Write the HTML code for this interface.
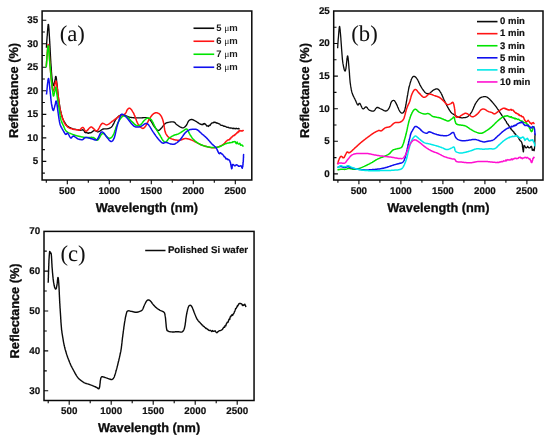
<!DOCTYPE html>
<html lang="en">
<head>
<meta charset="utf-8">
<title>Reflectance spectra</title>
<style>
html,body{margin:0;padding:0;background:#fff;}
body{width:550px;height:440px;overflow:hidden;}
svg{display:block;filter:blur(0.35px);}
text{text-rendering:geometricPrecision;}
.tk{font-family:"Liberation Sans", Arial, Helvetica, sans-serif;font-weight:bold;font-size:9.8px;fill:#111;stroke:#111;stroke-width:0.2px;}
.tt{font-family:"Liberation Sans", Arial, Helvetica, sans-serif;font-weight:bold;font-size:12.75px;fill:#0c0c0c;stroke:#0c0c0c;stroke-width:0.3px;}
.lt{font-family:"Liberation Serif", "Times New Roman", serif;font-size:22.7px;fill:#111;}
.lg{font-family:"Liberation Sans", Arial, Helvetica, sans-serif;font-weight:bold;font-size:9.5px;fill:#1c1c1c;}
.lb{font-family:"Liberation Sans", Arial, Helvetica, sans-serif;font-weight:bold;font-size:9.5px;fill:#111;stroke:#111;stroke-width:0.2px;}
.mu{font-family:"Liberation Serif", "Times New Roman", serif;font-weight:normal;font-size:9.5px;}
</style>
</head>
<body>
<svg width="550" height="440" viewBox="0 0 550 440">
<defs>
<clipPath id="ca"><rect x="42.1" y="11.0" width="209.70" height="169.00"/></clipPath>
<clipPath id="cb"><rect x="333.7" y="11.0" width="209.30" height="169.05"/></clipPath>
<clipPath id="cc"><rect x="44.0" y="231.4" width="210.05" height="169.10"/></clipPath>
</defs>
<rect x="0" y="0" width="550" height="440" fill="#ffffff"/>
<rect x="42.1" y="11.0" width="209.70" height="169.00" fill="none" stroke="#080808" stroke-width="1.5"/>
<path d="M67.30,180.0v4.2M109.30,180.0v4.2M151.30,180.0v4.2M193.30,180.0v4.2M235.30,180.0v4.2M46.30,180.0v2.8M88.30,180.0v2.8M130.30,180.0v2.8M172.30,180.0v2.8M214.30,180.0v2.8M42.1,161.40h4.2M42.1,137.87h4.2M42.1,114.33h4.2M42.1,90.80h4.2M42.1,67.26h4.2M42.1,43.73h4.2M42.1,20.19h4.2M42.1,173.17h2.8M42.1,149.63h2.8M42.1,126.10h2.8M42.1,102.56h2.8M42.1,79.03h2.8M42.1,55.49h2.8M42.1,31.96h2.8" stroke="#080808" stroke-width="1.1" fill="none"/>
<text x="67.30" y="193.80" text-anchor="middle" class="tk">500</text>
<text x="109.30" y="193.80" text-anchor="middle" class="tk">1000</text>
<text x="151.30" y="193.80" text-anchor="middle" class="tk">1500</text>
<text x="193.30" y="193.80" text-anchor="middle" class="tk">2000</text>
<text x="235.30" y="193.80" text-anchor="middle" class="tk">2500</text>
<text x="38.20" y="164.30" text-anchor="end" class="tk">5</text>
<text x="38.20" y="140.77" text-anchor="end" class="tk">10</text>
<text x="38.20" y="117.23" text-anchor="end" class="tk">15</text>
<text x="38.20" y="93.70" text-anchor="end" class="tk">20</text>
<text x="38.20" y="70.16" text-anchor="end" class="tk">25</text>
<text x="38.20" y="46.63" text-anchor="end" class="tk">30</text>
<text x="38.20" y="23.09" text-anchor="end" class="tk">35</text>
<text x="146.95" y="211.90" text-anchor="middle" class="tt">Wavelength (nm)</text>
<text transform="translate(17.60,90.50) rotate(-90)" text-anchor="middle" class="tt">Reflectance (%)</text>
<text x="59.70" y="40.60" class="lt">(a)</text>
<g clip-path="url(#ca)">
<path d="M46.4,47.7L46.4,47.4L46.4,47.0L46.5,46.5L46.5,46.0L46.5,45.5L46.6,44.9L46.6,44.2L46.7,43.6L46.7,42.9L46.7,42.2L46.8,41.5L46.8,40.8L46.9,40.1L46.9,39.4L47.0,38.7L47.0,38.0L47.1,37.3L47.1,36.6L47.2,36.0L47.3,35.3L47.3,34.6L47.4,33.9L47.4,33.1L47.5,32.2L47.5,31.4L47.6,30.5L47.7,29.7L47.7,28.8L47.8,28.0L47.9,27.3L47.9,26.6L48.0,26.0L48.1,25.4L48.1,25.0L48.2,24.6L48.3,24.4L48.3,24.3L48.4,24.3L48.4,24.4L48.5,24.6L48.5,24.8L48.6,25.1L48.6,25.5L48.7,25.9L48.7,26.4L48.8,26.9L48.8,27.5L48.9,28.1L48.9,28.7L49.0,29.4L49.0,30.0L49.0,30.8L49.1,31.5L49.1,32.3L49.2,33.0L49.2,33.8L49.3,34.6L49.3,35.4L49.4,36.2L49.4,37.0L49.5,37.7L49.5,38.5L49.6,39.3L49.6,40.0L49.6,40.5L49.7,41.1L49.7,41.6L49.7,42.2L49.8,42.8L49.8,43.3L49.8,43.9L49.9,44.5L49.9,45.2L49.9,45.8L50.0,46.4L50.0,47.0L50.0,47.6L50.1,48.3L50.1,48.9L50.1,49.6L50.2,50.2L50.2,50.9L50.2,51.5L50.3,52.2L50.3,52.8L50.3,53.4L50.4,54.1L50.4,54.7L50.4,55.4L50.5,56.0L50.5,56.6L50.5,57.3L50.6,57.9L50.6,58.5L50.6,59.1L50.7,59.7L50.7,60.3L50.7,60.9L50.8,61.4L50.8,62.0L50.8,62.7L50.9,63.3L50.9,64.0L51.0,64.7L51.0,65.4L51.1,66.1L51.1,66.7L51.2,67.4L51.2,68.1L51.3,68.8L51.3,69.4L51.4,70.1L51.4,70.7L51.4,71.4L51.5,72.0L51.5,72.7L51.6,73.3L51.6,73.9L51.7,74.5L51.7,75.1L51.8,75.6L51.8,76.2L51.9,76.7L51.9,77.3L52.0,77.8L52.0,78.3L52.1,78.7L52.1,79.2L52.2,79.6L52.2,80.0L52.3,80.6L52.3,81.2L52.5,82.3L52.6,83.1L52.8,83.9L52.9,84.4L53.1,84.9L53.2,85.2L53.4,85.4L53.5,85.5L53.7,85.4L53.9,84.9L54.1,84.3L54.3,83.5L54.4,82.6L54.6,81.7L54.8,81.0L55.0,80.2L55.1,79.3L55.3,78.4L55.4,77.5L55.6,76.8L55.7,76.4L55.9,76.4L56.0,76.6L56.1,76.9L56.2,77.4L56.3,77.9L56.4,78.6L56.5,79.3L56.5,80.0L56.6,80.8L56.7,81.6L56.8,82.5L56.9,83.2L57.0,84.0L57.1,84.6L57.1,85.1L57.2,85.8L57.3,86.4L57.3,87.0L57.4,87.6L57.4,88.3L57.5,89.0L57.6,89.6L57.6,90.3L57.7,90.9L57.7,91.6L57.8,92.2L57.9,92.8L57.9,93.4L58.0,94.0L58.1,94.7L58.2,95.4L58.2,96.0L58.3,96.6L58.4,97.2L58.5,97.8L58.5,98.5L58.6,99.1L58.7,99.7L58.8,100.3L58.9,100.9L59.0,101.6L59.1,102.3L59.2,102.9L59.3,103.5L59.4,104.1L59.5,104.7L59.6,105.4L59.7,106.0L59.8,106.7L59.9,107.3L60.0,108.0L60.1,108.6L60.2,109.3L60.4,109.9L60.5,110.5L60.6,111.1L60.8,111.7L60.9,112.3L61.1,112.9L61.2,113.6L61.4,114.2L61.6,114.9L61.8,115.5L61.9,116.1L62.1,116.7L62.3,117.3L62.5,117.9L62.7,118.4L62.9,119.0L63.2,119.5L63.4,119.9L63.6,120.5L63.9,121.1L64.2,121.8L64.5,122.1L64.8,122.7L65.2,123.2L65.5,124.0L65.9,124.4L66.2,124.5L66.6,125.5L66.9,125.9L67.3,126.1L67.8,126.5L68.4,126.7L68.9,127.0L69.5,127.6L70.1,127.6L70.6,128.0L71.2,128.2L71.8,128.3L72.5,128.8L73.2,129.0L73.9,129.3L74.6,129.2L75.2,129.4L75.8,129.4L76.4,129.6L77.2,129.6L77.9,129.6L78.5,130.1L79.1,130.2L79.8,130.2L80.4,130.3L81.0,130.1L81.6,130.1L82.3,130.0L82.9,129.7L83.5,130.2L83.8,130.3L84.1,131.1L84.5,131.5L84.9,132.4L85.5,132.7L86.0,132.4L86.6,132.6L87.2,133.1L87.9,132.9L88.6,133.3L89.3,132.9L89.9,132.6L90.5,132.9L91.1,132.7L91.7,132.1L92.3,131.8L92.8,131.4L93.3,131.0L93.9,130.7L94.4,130.5L95.0,130.6L95.6,130.8L96.2,131.2L96.8,131.5L97.5,131.8L98.2,131.8L98.7,131.7L99.2,131.4L99.8,131.1L100.4,130.7L101.0,130.3L101.6,129.9L102.1,129.5L102.7,129.2L103.3,129.0L103.9,128.8L104.6,128.8L105.3,128.8L105.9,128.8L106.6,128.8L107.2,128.8L107.8,128.7L108.4,128.6L109.0,128.4L109.6,128.2L110.1,127.9L110.6,127.6L111.2,127.2L111.7,126.7L112.2,126.1L112.5,125.7L112.8,125.2L113.1,124.7L113.4,124.2L113.7,123.6L114.0,123.0L114.2,122.4L114.5,121.7L114.8,121.2L115.1,120.6L115.4,120.0L115.7,119.5L116.0,119.1L116.5,118.5L117.0,117.9L117.4,117.4L117.9,116.9L118.4,116.5L118.8,116.1L119.3,115.8L119.8,115.5L120.4,115.2L121.0,114.9L121.5,114.8L122.1,114.7L122.8,114.7L123.6,114.8L124.1,114.9L124.6,115.1L125.1,115.3L125.7,115.6L126.3,115.8L126.9,116.1L127.5,116.4L128.2,116.7L128.8,116.9L129.5,117.1L130.2,117.3L130.8,117.4L131.4,117.5L132.0,117.6L132.6,117.6L133.3,117.7L133.9,117.7L134.6,117.8L135.3,117.8L135.9,117.8L136.6,117.8L137.2,117.9L137.9,117.9L138.5,117.9L139.1,117.9L139.8,117.9L140.5,117.9L141.2,117.8L141.9,117.8L142.6,117.7L143.2,117.7L143.9,117.6L144.5,117.6L145.1,117.6L145.7,117.6L146.2,117.6L146.7,117.7L147.4,117.9L148.1,118.2L148.6,118.5L149.1,118.9L149.5,119.4L150.0,119.9L150.5,120.5L150.8,120.9L151.1,121.4L151.5,121.9L151.8,122.4L152.1,123.0L152.5,123.6L152.8,124.2L153.1,124.8L153.4,125.3L153.8,125.9L154.1,126.4L154.4,126.8L154.9,127.4L155.4,128.0L155.9,128.6L156.3,129.1L156.8,129.6L157.3,130.0L157.8,130.3L158.2,130.4L158.8,130.4L159.3,130.2L159.8,129.8L160.3,129.2L160.8,128.7L161.4,128.1L161.8,127.7L162.2,127.2L162.6,126.7L163.0,126.1L163.4,125.5L163.9,125.0L164.3,124.4L164.7,124.0L165.2,123.6L165.8,123.2L166.4,122.9L167.0,122.7L167.7,122.5L168.3,122.3L169.0,122.2L169.6,122.1L170.3,122.0L170.9,121.9L171.6,121.9L172.3,121.9L173.0,121.9L173.6,122.0L174.1,122.1L174.7,122.4L175.1,122.8L175.5,123.4L175.9,123.9L176.6,124.5L177.0,124.8L177.5,125.1L178.0,125.5L178.6,125.9L179.1,126.3L179.7,126.6L180.3,127.0L180.9,127.3L181.4,127.5L181.9,127.7L182.4,127.8L183.1,127.8L183.7,127.6L184.2,127.3L184.8,126.9L185.3,126.5L185.7,126.0L186.2,125.5L186.6,125.0L186.9,124.4L187.2,123.8L187.5,123.1L187.8,122.4L188.1,121.8L188.5,121.2L188.8,120.8L189.4,120.3L190.0,119.9L190.6,119.6L191.3,119.5L192.0,119.5L192.5,119.6L193.0,119.8L193.6,120.0L194.1,120.3L194.7,120.7L195.3,121.0L195.9,121.3L196.5,121.6L197.0,122.0L197.6,122.3L198.2,122.9L198.8,123.2L199.4,123.6L199.9,123.9L200.5,124.3L201.0,124.2L201.5,124.6L202.3,124.3L202.9,124.7L203.5,123.6L204.1,124.0L204.7,123.4L205.2,124.1L205.7,124.4L206.2,125.1L206.7,126.0L207.3,125.8L207.9,125.9L208.3,126.5L208.8,125.9L209.3,125.2L209.8,125.5L210.4,124.9L210.9,123.8L211.4,123.6L211.9,123.0L212.4,122.9L213.1,122.8L213.6,122.3L214.2,122.6L214.8,122.1L215.5,122.3L216.2,123.0L216.7,122.8L217.2,123.0L217.8,123.4L218.4,123.5L219.0,123.8L219.6,123.8L220.2,124.7L220.8,125.2L221.3,125.4L221.9,125.4L222.5,125.4L223.0,125.7L223.6,126.2L224.1,126.4L224.7,126.1L225.2,126.4L225.8,126.7L226.4,127.0L227.0,127.4L227.6,127.4L228.2,127.1L228.9,127.9L229.5,127.8L230.2,128.0L230.9,127.9L231.5,128.1L232.2,128.2L232.8,128.6L233.4,128.2L234.1,128.6L234.9,128.4L235.6,128.8L236.3,128.3L236.9,128.6L237.5,128.6L238.1,128.9L238.5,128.4L239.4,128.9L239.7,128.9" stroke="#0a0a0a" stroke-width="1.35" fill="none" stroke-linejoin="round" stroke-linecap="butt"/>
<path d="M46.3,66.0L46.3,65.7L46.4,65.3L46.4,64.8L46.4,64.3L46.5,63.7L46.5,63.1L46.6,62.5L46.6,61.8L46.7,61.0L46.7,60.3L46.8,59.5L46.8,58.7L46.9,57.9L46.9,57.1L47.0,56.2L47.1,55.4L47.1,54.6L47.2,53.7L47.2,52.9L47.3,52.1L47.4,51.3L47.4,50.6L47.5,49.8L47.6,49.1L47.6,48.4L47.7,47.8L47.7,47.2L47.8,46.6L47.9,46.2L47.9,45.7L48.0,45.3L48.0,45.0L48.1,44.8L48.1,44.6L48.2,44.5L48.3,44.5L48.3,44.5L48.4,44.7L48.4,44.9L48.5,45.2L48.5,45.5L48.6,46.0L48.7,46.4L48.7,47.0L48.8,47.6L48.8,48.2L48.9,48.8L48.9,49.5L49.0,50.3L49.0,51.0L49.1,51.8L49.1,52.6L49.2,53.4L49.3,54.3L49.3,55.1L49.4,55.9L49.4,56.7L49.5,57.6L49.5,58.4L49.6,59.1L49.6,59.9L49.7,60.6L49.7,61.3L49.8,62.0L49.9,62.6L49.9,63.2L50.0,63.8L50.0,64.4L50.1,65.0L50.1,65.6L50.2,66.3L50.2,66.9L50.3,67.6L50.3,68.2L50.4,68.9L50.4,69.6L50.5,70.2L50.5,70.9L50.6,71.5L50.6,72.2L50.7,72.9L50.7,73.5L50.8,74.2L50.8,74.8L50.9,75.4L50.9,76.1L51.0,76.7L51.0,77.3L51.1,77.9L51.1,78.4L51.2,79.0L51.2,79.5L51.3,80.1L51.3,80.6L51.4,81.1L51.4,81.5L51.5,82.0L51.6,83.0L51.7,83.9L51.8,84.8L52.0,85.7L52.1,86.5L52.2,87.3L52.3,88.0L52.4,88.7L52.5,89.3L52.6,89.8L52.8,90.3L52.9,90.6L53.0,90.8L53.2,91.0L53.3,91.0L53.4,90.9L53.6,90.6L53.7,90.1L53.9,89.6L54.0,88.9L54.2,88.2L54.4,87.3L54.5,86.5L54.7,85.6L54.9,84.8L55.0,84.0L55.2,83.2L55.4,82.5L55.5,81.9L55.6,81.4L55.8,81.1L55.9,80.9L56.1,80.9L56.2,81.1L56.3,81.4L56.4,82.0L56.5,82.6L56.6,83.3L56.7,84.1L56.8,84.9L56.9,85.8L57.0,86.6L57.1,87.3L57.2,88.0L57.3,88.6L57.4,89.2L57.5,89.8L57.5,90.5L57.6,91.1L57.7,91.7L57.8,92.4L57.8,93.0L57.9,93.6L58.0,94.3L58.1,94.9L58.1,95.4L58.2,96.0L58.3,96.7L58.4,97.4L58.5,98.0L58.6,98.6L58.7,99.2L58.7,99.8L58.8,100.4L58.9,101.0L59.0,101.7L59.1,102.3L59.2,102.9L59.2,103.4L59.3,103.9L59.3,104.4L59.3,104.9L59.4,105.5L59.5,106.0L59.5,106.7L59.7,107.3L59.8,108.1L60.0,108.9L60.1,109.4L60.2,109.9L60.4,110.4L60.5,110.9L60.7,111.5L60.8,112.1L61.0,112.8L61.2,113.4L61.3,114.0L61.5,114.7L61.7,115.3L61.9,116.0L62.1,116.6L62.3,117.3L62.5,117.9L62.7,118.6L62.9,119.1L63.1,119.6L63.3,120.1L63.4,120.6L63.6,121.2L63.8,121.5L64.2,122.4L64.5,123.0L64.9,123.7L65.3,124.3L65.6,125.0L66.0,125.3L66.4,125.3L66.8,125.8L67.2,126.1L67.6,126.9L68.1,127.3L68.6,127.6L69.2,127.9L69.7,128.1L70.3,128.5L70.9,128.6L71.5,128.5L72.1,129.0L72.7,129.0L73.3,129.3L73.9,129.4L74.6,129.4L75.3,129.5L76.0,129.7L76.7,129.7L77.3,129.7L78.0,130.2L78.6,130.1L79.1,130.2L79.8,129.8L80.4,129.3L80.9,128.9L81.4,128.0L81.9,127.9L82.4,127.5L82.9,127.4L83.3,127.6L83.7,128.1L84.1,128.7L84.4,129.4L84.8,130.1L85.2,130.7L85.6,131.1L86.1,131.2L86.5,131.1L86.9,130.8L87.3,130.4L87.8,129.9L88.3,129.4L88.7,128.8L89.2,128.3L89.7,127.8L90.2,127.4L90.7,127.1L91.2,127.0L91.7,127.1L92.2,127.4L92.7,127.8L93.3,128.3L93.8,128.8L94.3,129.4L94.8,129.9L95.4,130.3L95.9,130.7L96.4,130.8L96.9,130.8L97.3,130.6L97.7,130.3L98.0,129.8L98.4,129.3L98.8,128.7L99.1,128.0L99.5,127.3L99.8,126.6L100.2,125.9L100.6,125.3L100.9,124.7L101.3,124.2L101.6,123.8L102.0,123.5L102.6,123.3L103.2,123.4L103.9,123.6L104.5,124.0L105.1,124.4L105.7,124.7L106.4,124.9L107.1,124.8L107.6,124.6L108.1,124.4L108.6,124.1L109.1,123.8L109.7,123.4L110.2,123.0L110.8,122.5L111.3,122.1L111.9,121.6L112.4,121.2L113.0,120.8L113.5,120.4L114.0,120.0L114.6,119.6L115.1,119.2L115.7,118.8L116.2,118.4L116.7,118.0L117.3,117.6L117.8,117.2L118.3,116.8L118.8,116.5L119.3,116.2L119.8,115.9L120.4,115.6L121.1,115.4L121.7,115.2L122.3,115.0L122.9,114.9L123.4,114.7L124.0,114.5L124.4,114.3L124.9,114.0L125.3,113.5L125.7,113.0L126.1,112.4L126.4,111.7L126.6,111.1L126.9,110.4L127.2,109.9L127.5,109.5L128.1,108.8L128.8,108.3L129.4,108.1L130.2,108.4L130.5,108.6L130.8,109.0L131.2,109.4L131.5,109.8L131.9,110.3L132.2,110.9L132.6,111.5L132.9,112.1L133.3,112.7L133.7,113.4L134.0,114.1L134.2,114.6L134.4,115.1L134.7,115.6L134.9,116.2L135.1,116.8L135.3,117.4L135.5,118.0L135.7,118.6L136.0,119.2L136.2,119.8L136.4,120.4L136.6,121.0L136.9,121.6L137.1,122.2L137.3,122.7L137.6,123.2L137.8,123.6L138.2,124.3L138.7,125.0L139.1,125.6L139.6,126.2L140.1,126.7L140.6,127.1L141.0,127.5L141.5,127.9L141.9,128.1L142.3,128.3L142.9,128.4L143.4,128.3L143.9,128.0L144.4,127.5L144.9,126.9L145.5,126.2L145.8,125.8L146.1,125.4L146.3,124.9L146.6,124.3L146.9,123.8L147.2,123.2L147.5,122.6L147.8,122.0L148.1,121.4L148.4,120.8L148.7,120.2L149.0,119.7L149.3,119.2L149.7,118.6L150.1,118.0L150.4,117.4L150.8,116.8L151.2,116.3L151.6,115.8L152.0,115.3L152.3,114.8L152.7,114.4L153.1,114.1L153.7,113.6L154.4,113.2L155.0,113.0L155.6,112.8L156.3,112.7L156.9,112.8L157.5,112.9L158.0,113.2L158.6,113.4L159.2,113.8L159.7,114.3L160.2,114.8L160.7,115.4L161.0,115.8L161.3,116.3L161.5,116.7L161.8,117.3L162.0,117.8L162.2,118.4L162.5,119.0L162.7,119.6L162.9,120.3L163.1,121.0L163.3,121.7L163.4,122.2L163.5,122.8L163.7,123.3L163.8,123.9L163.9,124.6L164.0,125.2L164.1,125.9L164.2,126.5L164.3,127.2L164.4,127.9L164.5,128.5L164.6,129.2L164.7,129.8L164.8,130.4L164.9,130.9L165.1,131.4L165.2,131.9L165.5,132.6L165.7,133.3L166.0,133.9L166.3,134.4L166.6,134.9L166.9,135.4L167.3,135.8L167.6,136.2L168.0,136.6L168.4,137.0L168.9,137.4L169.4,137.8L169.9,138.1L170.5,138.4L171.0,138.7L171.6,138.9L172.2,139.1L172.9,139.3L173.5,139.5L174.1,139.7L174.7,139.8L175.3,139.9L176.0,140.0L176.6,140.1L177.3,140.2L178.0,140.2L178.6,140.2L179.2,140.2L179.8,140.2L180.4,140.1L181.0,140.0L181.6,139.7L182.2,139.5L182.8,139.3L183.3,139.0L183.9,138.8L184.4,138.7L185.0,138.6L185.6,138.6L186.3,138.6L186.9,138.7L187.6,138.8L188.2,139.0L188.8,139.1L189.5,139.3L190.1,139.5L190.7,139.7L191.2,139.9L191.8,140.1L192.3,140.4L192.9,140.6L193.4,140.9L194.0,141.2L194.6,141.5L195.2,141.8L195.7,142.1L196.3,142.3L196.8,142.6L197.4,143.0L198.0,143.3L198.6,143.6L199.2,143.9L199.7,144.2L200.3,144.5L200.9,144.8L201.5,145.0L202.1,145.2L202.7,145.4L203.3,145.6L203.9,145.8L204.5,146.0L205.1,146.2L205.7,146.3L206.2,146.5L206.8,146.6L207.4,146.8L207.9,146.9L208.6,147.1L209.3,147.2L209.9,147.4L210.5,147.5L211.1,147.6L211.8,147.7L212.4,147.8L213.0,147.8L213.6,147.8L214.3,147.7L214.9,147.7L215.5,147.6L216.2,147.4L216.8,147.3L217.5,147.1L218.1,146.9L218.7,146.7L219.3,146.5L219.8,146.2L220.4,146.0L221.0,145.7L221.6,145.4L222.2,145.1L222.7,144.7L223.2,144.4L223.7,144.0L224.2,143.6L224.6,143.1L225.0,142.6L225.5,142.2L225.9,141.6L226.3,141.1L226.6,140.9L227.0,140.6L227.7,140.0L228.3,140.0L228.9,139.7L229.5,139.7L229.9,138.8L230.3,138.4L230.7,138.6L231.1,137.5L231.6,136.9L232.1,137.0L232.6,136.5L233.1,135.6L233.6,135.7L234.2,135.5L234.8,134.6L235.3,134.8L235.9,133.8L236.4,133.6L236.9,132.8L237.4,132.3L237.9,132.6L238.4,131.4L238.9,131.6L239.3,130.6L239.7,130.5L240.4,130.8L241.0,131.1L241.5,130.8L242.2,131.1L243.0,130.7L243.5,129.8" stroke="#ff1414" stroke-width="1.5" fill="none" stroke-linejoin="round" stroke-linecap="butt"/>
<path d="M46.2,67.3L46.2,67.0L46.3,66.6L46.3,66.1L46.3,65.6L46.4,65.0L46.4,64.4L46.5,63.8L46.5,63.1L46.6,62.3L46.6,61.6L46.7,60.8L46.8,60.0L46.8,59.2L46.9,58.4L46.9,57.6L47.0,56.7L47.1,55.9L47.1,55.1L47.2,54.2L47.3,53.4L47.3,52.6L47.4,51.9L47.5,51.1L47.5,50.4L47.6,49.7L47.7,49.1L47.7,48.5L47.8,48.0L47.9,47.5L47.9,47.0L48.0,46.6L48.0,46.3L48.1,46.1L48.1,45.9L48.2,45.8L48.3,45.8L48.3,45.8L48.4,46.0L48.4,46.2L48.5,46.5L48.6,46.9L48.6,47.4L48.7,47.9L48.7,48.5L48.8,49.1L48.9,49.8L48.9,50.5L49.0,51.2L49.0,52.0L49.1,52.8L49.1,53.6L49.2,54.4L49.2,55.3L49.3,56.1L49.4,57.0L49.4,57.8L49.5,58.6L49.5,59.4L49.6,60.2L49.6,61.0L49.7,61.7L49.7,62.4L49.8,63.0L49.9,63.6L49.9,64.2L50.0,64.9L50.0,65.5L50.1,66.1L50.2,66.8L50.2,67.4L50.3,68.1L50.3,68.7L50.4,69.4L50.5,70.0L50.5,70.7L50.6,71.3L50.6,72.0L50.7,72.6L50.7,73.2L50.8,73.8L50.9,74.5L50.9,75.1L51.0,75.7L51.0,76.2L51.1,76.8L51.1,77.4L51.2,77.9L51.2,78.5L51.3,79.0L51.4,79.5L51.4,80.0L51.5,80.8L51.6,81.6L51.6,82.4L51.7,83.1L51.8,83.8L51.9,84.4L51.9,85.1L52.0,85.7L52.1,86.3L52.1,86.9L52.2,87.4L52.2,87.9L52.3,88.5L52.4,89.0L52.4,89.5L52.5,90.0L52.6,90.8L52.7,91.6L52.8,92.4L52.9,93.2L53.0,93.9L53.1,94.6L53.2,95.1L53.3,95.6L53.4,95.9L53.5,96.0L53.6,95.9L53.8,95.5L54.0,94.9L54.1,94.1L54.3,93.3L54.5,92.4L54.6,91.6L54.8,91.0L55.0,90.2L55.2,89.2L55.4,88.4L55.5,87.6L55.7,87.2L55.9,87.3L56.0,87.5L56.1,87.9L56.2,88.4L56.3,89.0L56.4,89.7L56.5,90.5L56.5,91.3L56.6,92.1L56.7,92.9L56.8,93.6L56.9,94.3L57.0,95.0L57.1,95.7L57.2,96.3L57.3,97.0L57.4,97.6L57.5,98.3L57.5,98.9L57.6,99.5L57.7,100.1L57.8,100.8L57.9,101.4L58.0,102.0L58.1,102.6L58.2,103.2L58.3,103.7L58.4,104.2L58.5,104.8L58.5,105.3L58.6,105.9L58.7,106.5L58.9,107.1L59.0,107.8L59.1,108.6L59.2,109.1L59.3,109.6L59.3,110.2L59.4,110.8L59.5,111.4L59.6,112.1L59.7,112.7L59.8,113.4L59.9,114.1L60.0,114.7L60.1,115.4L60.2,116.0L60.3,116.7L60.4,117.3L60.5,117.9L60.7,118.5L60.8,119.0L60.9,119.5L61.1,120.3L61.3,121.0L61.6,121.6L61.8,122.2L62.1,122.8L62.3,123.4L62.6,123.9L62.8,124.4L63.1,125.0L63.3,125.5L63.6,126.0L63.9,126.6L64.1,127.3L64.4,127.9L64.6,128.5L64.9,129.1L65.2,129.7L65.5,130.2L65.9,130.7L66.4,131.2L66.8,131.6L67.3,131.9L67.9,132.3L68.4,132.6L69.0,132.9L69.6,133.1L70.3,133.4L70.9,133.7L71.5,133.9L72.1,134.2L72.7,134.4L73.3,134.6L73.9,134.8L74.4,135.0L75.0,135.2L75.6,135.4L76.2,135.6L76.8,135.7L77.4,135.9L77.9,136.0L78.5,136.2L79.1,136.3L79.7,136.5L80.4,136.6L81.0,136.7L81.6,136.9L82.2,137.0L82.9,137.1L83.5,137.3L84.1,137.3L84.8,137.4L85.5,137.5L86.1,137.5L86.7,137.5L87.4,137.5L88.1,137.5L88.7,137.5L89.4,137.4L90.1,137.4L90.8,137.4L91.4,137.3L92.0,137.4L92.6,137.4L93.1,137.5L93.8,137.8L94.4,138.2L95.0,138.6L95.5,139.2L96.0,139.6L96.5,140.0L97.0,140.2L97.5,140.1L97.9,139.9L98.3,139.5L98.6,139.0L99.0,138.4L99.4,137.8L99.8,137.1L100.1,136.5L100.5,135.8L100.8,135.2L101.1,134.8L101.4,134.4L102.1,133.8L102.7,133.5L103.3,133.5L103.9,133.7L104.3,134.0L104.8,134.4L105.2,134.9L105.7,135.5L106.2,136.0L106.6,136.5L107.1,136.9L107.7,137.4L108.4,137.8L109.0,138.1L109.7,138.3L110.3,138.2L110.7,138.0L111.1,137.8L111.5,137.4L111.9,137.0L112.3,136.5L112.7,135.9L113.1,135.2L113.5,134.4L113.7,134.0L113.9,133.5L114.1,133.0L114.3,132.5L114.5,131.9L114.7,131.3L114.9,130.7L115.1,130.1L115.4,129.5L115.6,128.8L115.8,128.2L116.0,127.6L116.2,126.9L116.4,126.3L116.7,125.8L116.9,125.2L117.1,124.7L117.3,124.2L117.6,123.5L117.9,122.9L118.3,122.2L118.6,121.6L118.9,121.0L119.3,120.5L119.6,119.9L119.9,119.5L120.2,119.0L120.5,118.6L120.8,118.2L121.1,117.8L121.7,117.1L122.2,116.6L122.7,116.3L123.2,116.1L123.8,116.0L124.4,116.0L124.9,116.1L125.5,116.2L126.2,116.5L126.9,116.8L127.6,117.3L128.0,117.6L128.4,118.0L128.8,118.4L129.3,118.8L129.7,119.3L130.1,119.7L130.6,120.2L131.0,120.7L131.5,121.2L131.9,121.6L132.3,122.0L132.7,122.4L133.2,122.9L133.7,123.4L134.2,123.9L134.7,124.3L135.1,124.7L135.6,125.0L136.0,125.3L136.5,125.5L137.1,125.7L137.8,125.7L138.5,125.7L139.1,125.5L139.8,125.3L140.4,124.9L140.8,124.6L141.3,124.1L141.7,123.6L142.1,123.1L142.5,122.5L142.9,122.0L143.4,121.4L143.8,120.9L144.2,120.5L144.7,120.0L145.3,119.5L145.8,119.0L146.4,118.6L146.9,118.2L147.5,118.0L148.0,117.9L148.5,118.0L149.1,118.1L149.6,118.4L150.2,118.8L150.7,119.2L151.3,119.8L151.8,120.5L152.1,120.9L152.3,121.3L152.6,121.8L152.9,122.3L153.2,122.9L153.4,123.5L153.7,124.1L154.0,124.7L154.2,125.3L154.5,125.9L154.8,126.5L155.1,127.0L155.3,127.6L155.6,128.1L155.9,128.7L156.2,129.2L156.6,129.8L156.9,130.3L157.2,130.9L157.6,131.4L157.9,131.9L158.2,132.4L158.5,132.9L158.9,133.5L159.2,134.0L159.5,134.5L159.8,135.0L160.2,135.6L160.5,136.2L160.8,136.8L161.2,137.4L161.5,138.0L161.8,138.5L162.1,139.1L162.4,139.6L162.7,140.0L163.0,140.5L163.3,140.8L164.0,141.6L164.6,142.1L165.2,142.3L165.8,142.1L166.2,141.9L166.5,141.5L166.9,141.0L167.3,140.5L167.7,139.9L168.1,139.3L168.5,138.8L169.0,138.3L169.5,137.9L170.0,137.5L170.6,137.1L171.1,136.8L171.7,136.4L172.3,136.1L172.9,135.8L173.5,135.5L174.1,135.2L174.7,135.0L175.3,134.8L176.0,134.7L176.6,134.5L177.2,134.3L177.9,134.1L178.5,133.8L179.0,133.5L179.6,133.2L180.1,132.9L180.7,132.6L181.2,132.2L181.7,131.8L182.3,131.5L182.7,131.2L183.2,130.9L183.6,130.6L184.3,130.1L184.9,129.7L185.4,129.3L185.8,129.1L186.2,128.9L186.8,128.9L187.5,129.7L187.7,130.1L188.0,130.5L188.2,131.1L188.5,131.7L188.8,132.3L189.1,132.9L189.4,133.6L189.8,134.2L190.1,134.8L190.4,135.3L190.8,135.8L191.1,136.4L191.5,136.9L191.8,137.4L192.2,138.0L192.6,138.5L193.0,139.0L193.5,139.4L193.9,139.9L194.4,140.3L194.8,140.8L195.3,141.2L195.8,141.6L196.3,142.0L196.8,142.3L197.3,142.7L197.9,143.0L198.4,143.4L199.0,143.7L199.5,144.0L200.1,144.3L200.6,144.5L201.2,144.8L201.8,145.0L202.3,145.3L202.9,145.5L203.5,145.7L204.1,145.9L204.8,146.1L205.4,146.3L206.0,146.5L206.6,146.6L207.2,146.7L207.9,146.9L208.5,147.0L209.2,147.1L209.9,147.2L210.5,147.3L211.2,147.4L211.8,147.4L212.4,147.5L213.0,147.5L213.7,147.5L214.4,147.5L215.0,147.5L215.7,147.4L216.3,147.4L216.9,147.3L217.5,147.2L218.1,147.0L218.8,146.9L219.4,146.7L220.0,146.5L220.6,146.3L221.2,146.0L221.7,145.7L222.3,145.4L222.9,145.1L223.5,144.8L224.1,144.4L224.6,144.2L225.2,143.9L225.7,143.7L226.4,143.5L227.1,143.2L227.7,143.1L228.4,142.9L229.0,143.0L229.6,142.5L230.2,142.8L230.8,142.6L231.5,142.6L232.2,142.6L232.8,141.8L233.5,141.8L234.0,142.0L234.6,141.6L235.0,141.6L235.6,141.9L235.9,143.2L236.2,143.6L236.8,143.1L237.3,142.1L237.7,143.4L238.1,143.9L238.5,144.1L239.1,143.9L239.6,143.3L240.0,143.5L240.3,144.8L240.7,145.2L241.2,145.0L241.8,145.0L242.3,145.2L242.8,145.7L243.2,146.8" stroke="#00e400" stroke-width="1.5" fill="none" stroke-linejoin="round" stroke-linecap="butt"/>
<path d="M46.5,94.5L46.5,94.2L46.6,93.7L46.6,93.2L46.7,92.7L46.8,92.0L46.8,91.4L46.9,90.6L47.0,89.9L47.0,89.1L47.1,88.3L47.2,87.5L47.3,86.7L47.3,85.8L47.4,85.0L47.5,84.2L47.6,83.5L47.7,82.7L47.8,82.0L47.9,81.3L47.9,80.7L48.0,80.2L48.1,79.7L48.2,79.3L48.3,79.0L48.3,78.7L48.4,78.6L48.5,78.6L48.6,78.6L48.7,78.9L48.8,79.2L48.8,79.6L48.9,80.1L49.0,80.7L49.1,81.4L49.2,82.1L49.3,82.9L49.4,83.7L49.4,84.5L49.5,85.4L49.6,86.2L49.7,87.0L49.8,87.8L49.8,88.6L49.9,89.3L50.0,90.0L50.1,90.6L50.1,91.2L50.2,91.8L50.3,92.5L50.3,93.1L50.4,93.8L50.5,94.4L50.5,95.1L50.6,95.7L50.7,96.4L50.7,97.1L50.8,97.7L50.8,98.4L50.9,99.0L51.0,99.6L51.0,100.3L51.1,100.8L51.2,101.4L51.3,102.0L51.3,102.5L51.4,103.0L51.5,103.9L51.7,104.7L51.8,105.5L52.0,106.4L52.1,107.1L52.3,107.8L52.4,108.5L52.6,109.1L52.8,109.6L52.9,110.0L53.1,110.3L53.2,110.5L53.4,110.5L53.7,110.1L53.9,109.4L54.1,108.6L54.4,107.7L54.6,106.8L54.8,106.0L55.0,105.3L55.2,104.6L55.4,103.7L55.5,102.9L55.7,102.2L55.9,101.6L56.0,101.1L56.2,101.0L56.3,101.1L56.5,101.5L56.6,102.0L56.7,102.7L56.8,103.5L57.0,104.4L57.1,105.2L57.2,106.0L57.3,106.5L57.4,107.0L57.4,107.6L57.5,108.1L57.6,108.7L57.6,109.2L57.7,109.8L57.8,110.5L57.9,111.1L58.0,111.8L58.1,112.5L58.2,113.2L58.3,113.7L58.4,114.3L58.4,114.9L58.5,115.5L58.6,116.1L58.7,116.7L58.8,117.4L58.9,118.1L59.0,118.7L59.1,119.4L59.2,120.0L59.3,120.7L59.4,121.3L59.5,121.9L59.7,122.5L59.8,123.0L59.9,123.5L60.0,124.0L60.2,124.8L60.5,125.6L60.8,126.2L61.0,126.7L61.3,127.3L61.6,127.8L61.9,128.2L62.2,128.8L62.5,129.3L62.8,129.8L63.1,130.4L63.4,131.0L63.8,131.7L64.1,132.3L64.5,132.8L64.8,133.3L65.1,133.8L65.4,134.2L65.7,134.4L66.4,134.2L66.9,133.3L67.6,133.1L67.9,133.4L68.2,133.9L68.6,134.5L69.0,135.2L69.3,135.9L69.7,136.6L70.1,137.2L70.5,137.6L70.8,137.9L71.3,137.9L71.8,137.4L72.3,136.7L72.8,136.2L73.4,136.0L73.9,136.1L74.4,136.4L74.9,136.8L75.5,137.2L76.1,137.7L76.7,138.1L77.2,138.5L77.8,138.8L78.4,139.1L79.1,139.3L79.8,139.5L80.5,139.6L81.1,139.7L81.7,139.8L82.3,139.7L82.9,139.5L83.3,139.1L83.8,138.6L84.3,138.1L84.8,137.7L85.5,137.5L86.0,137.5L86.6,137.5L87.2,137.6L87.9,137.8L88.5,138.0L89.2,138.1L89.9,138.3L90.6,138.5L91.2,138.7L91.8,138.8L92.5,139.0L93.2,139.2L93.9,139.5L94.5,139.8L95.1,140.0L95.7,140.0L96.3,140.0L96.9,139.7L97.2,139.4L97.6,139.0L97.9,138.5L98.2,137.9L98.5,137.3L98.8,136.7L99.1,136.0L99.4,135.3L99.7,134.7L99.9,134.1L100.2,133.6L100.5,133.1L100.7,132.8L101.4,132.1L102.0,131.9L102.6,132.0L103.3,132.5L103.6,132.8L104.0,133.2L104.4,133.6L104.7,134.2L105.1,134.7L105.5,135.3L105.9,135.9L106.3,136.5L106.7,137.0L107.1,137.5L107.5,138.0L108.0,138.6L108.4,139.1L108.8,139.7L109.3,140.2L109.7,140.7L110.1,141.0L110.5,141.3L110.9,141.4L111.4,141.4L111.9,141.3L112.3,141.0L112.8,140.6L113.2,140.0L113.6,139.2L114.1,138.2L114.3,137.8L114.4,137.3L114.6,136.9L114.7,136.3L114.9,135.8L115.0,135.2L115.2,134.6L115.3,133.9L115.5,133.3L115.6,132.6L115.8,131.9L115.9,131.2L116.1,130.5L116.2,129.9L116.4,129.2L116.5,128.5L116.7,127.9L116.8,127.2L117.0,126.6L117.1,126.0L117.3,125.5L117.5,124.8L117.7,124.1L117.9,123.4L118.1,122.7L118.3,122.0L118.6,121.3L118.8,120.7L119.0,120.0L119.2,119.4L119.4,118.8L119.6,118.2L119.8,117.7L120.0,117.2L120.2,116.7L120.3,116.3L120.5,115.9L121.0,114.8L121.5,114.3L121.9,114.2L122.5,114.3L122.9,114.4L123.3,114.6L123.8,114.9L124.3,115.3L124.8,115.7L125.3,116.2L125.8,116.7L126.4,117.3L126.8,117.7L127.1,118.1L127.5,118.6L127.9,119.1L128.3,119.6L128.7,120.2L129.2,120.7L129.6,121.3L130.0,121.8L130.4,122.3L130.8,122.8L131.1,123.2L131.5,123.6L132.0,124.2L132.5,124.7L133.0,125.2L133.4,125.6L133.8,126.0L134.3,126.3L134.8,126.6L135.3,126.8L135.9,127.0L136.5,127.1L137.1,127.1L137.8,127.1L138.4,127.0L139.1,126.9L139.8,126.8L140.4,126.6L141.0,126.4L141.6,126.0L142.2,125.6L142.8,125.2L143.4,124.8L143.9,124.4L144.5,124.0L145.0,123.8L145.5,123.6L146.2,123.5L146.8,123.5L147.4,123.8L147.9,124.2L148.6,124.9L148.9,125.3L149.2,125.7L149.5,126.1L149.9,126.6L150.2,127.2L150.5,127.7L150.9,128.3L151.3,128.9L151.6,129.6L152.0,130.2L152.4,130.8L152.7,131.3L153.1,131.9L153.4,132.4L153.8,132.9L154.2,133.5L154.5,134.0L154.9,134.5L155.3,135.0L155.7,135.6L156.0,136.1L156.4,136.6L156.8,137.1L157.1,137.6L157.5,138.0L157.9,138.5L158.2,138.9L158.7,139.5L159.1,140.0L159.6,140.5L160.1,141.0L160.5,141.5L161.0,141.9L161.4,142.3L161.8,142.6L162.2,142.9L162.6,143.1L163.3,143.2L163.9,143.0L164.4,142.7L165.1,142.4L165.8,142.3L166.4,142.4L167.0,142.6L167.6,142.8L168.3,143.1L169.0,143.4L169.7,143.6L170.3,143.9L170.9,144.0L171.6,144.1L172.2,144.3L172.8,144.3L173.4,144.3L174.0,144.2L174.7,144.0L175.2,143.8L175.6,143.5L176.1,143.2L176.6,142.9L177.2,142.5L177.7,142.1L178.2,141.7L178.8,141.2L179.3,140.7L179.8,140.2L180.2,139.8L180.5,139.3L180.9,138.8L181.3,138.3L181.7,137.8L182.0,137.2L182.4,136.7L182.8,136.1L183.2,135.5L183.5,135.0L183.9,134.5L184.2,134.0L184.6,133.6L184.9,133.2L185.4,132.6L186.0,132.1L186.5,131.7L186.9,131.3L187.4,130.9L187.9,130.6L188.3,130.4L188.8,130.1L189.4,129.8L190.0,129.6L190.7,129.5L191.3,129.4L191.9,129.3L192.6,129.3L193.2,129.3L193.8,129.2L194.5,129.2L195.1,129.2L195.8,129.3L196.5,129.5L197.1,129.7L197.6,130.0L198.1,130.3L198.5,130.7L199.0,131.1L199.5,131.6L200.0,132.1L200.5,132.5L201.0,133.0L201.5,133.5L201.9,133.9L202.4,134.3L202.8,134.6L203.3,135.0L203.8,135.4L204.2,135.8L204.7,136.2L205.2,136.7L205.7,137.1L206.1,137.5L206.6,138.0L207.0,138.4L207.5,138.9L207.9,139.4L208.3,139.9L208.8,140.4L209.2,140.9L209.6,141.4L210.1,141.9L210.5,142.4L210.9,142.8L211.3,143.3L211.7,143.7L212.2,144.2L212.7,144.7L213.2,145.1L213.7,145.5L214.2,145.9L214.6,146.4L215.1,146.6L215.5,147.3L215.9,147.4L216.3,148.1L216.6,148.7L217.0,149.1L217.3,150.2L217.6,150.5L217.9,151.6L218.2,152.3L218.5,152.2L218.8,153.3L219.1,153.5L219.8,153.7L220.4,152.7L221.4,153.5L221.8,154.0L222.2,154.0L222.6,154.4L223.1,155.0L223.6,155.5L224.1,156.7L224.6,156.8L225.2,157.4L225.6,158.2L226.1,159.0L226.5,158.6L226.8,158.6L227.9,159.8L228.6,159.5L228.9,159.8L229.2,160.0L229.4,160.2L229.7,160.7L230.0,161.6L230.3,162.5L230.5,162.7L230.7,164.0L230.8,164.8L231.0,164.7L231.1,166.4L231.3,166.8L231.4,168.0L231.5,168.0L231.7,168.8L231.8,168.5L232.0,168.5L232.1,167.7L232.2,166.2L232.3,165.4L232.5,164.7L232.7,164.4L233.2,164.4L233.8,165.1L234.4,165.8L235.0,165.8L235.6,165.3L236.2,164.8L236.8,165.0L237.3,165.1L237.9,165.5L238.5,166.3L239.0,166.1L239.5,166.3L240.3,166.1L241.0,165.7L241.5,166.2L241.9,167.8L242.3,168.2L242.4,167.0L242.5,167.2L242.6,167.0L242.8,166.2L242.9,164.8L243.0,164.7L243.0,163.5L243.1,162.7L243.2,161.7L243.2,161.8L243.3,161.7L243.3,160.0L243.4,159.4L243.4,159.0L243.4,157.9L243.5,157.7L243.5,157.3L243.5,156.4L243.5,155.3L243.6,154.7L243.6,154.5L243.6,154.7" stroke="#1010ee" stroke-width="1.5" fill="none" stroke-linejoin="round" stroke-linecap="butt"/>
</g>
<path d="M193.5,28.25H214.2" stroke="#0a0a0a" stroke-width="1.6"/>
<text x="216.3" y="30.75" class="lg">5 <tspan class="mu">μ</tspan>m</text>
<path d="M193.5,41.25H214.2" stroke="#ff1414" stroke-width="1.6"/>
<text x="216.3" y="43.75" class="lg">6 <tspan class="mu">μ</tspan>m</text>
<path d="M193.5,54.25H214.2" stroke="#00e400" stroke-width="1.6"/>
<text x="216.3" y="56.75" class="lg">7 <tspan class="mu">μ</tspan>m</text>
<path d="M193.5,67.25H214.2" stroke="#1010ee" stroke-width="1.6"/>
<text x="216.3" y="69.75" class="lg">8 <tspan class="mu">μ</tspan>m</text>
<rect x="333.7" y="11.0" width="209.30" height="169.05" fill="none" stroke="#080808" stroke-width="1.5"/>
<path d="M358.90,180.05v4.2M400.90,180.05v4.2M442.90,180.05v4.2M484.90,180.05v4.2M526.90,180.05v4.2M337.90,180.05v2.8M379.90,180.05v2.8M421.90,180.05v2.8M463.90,180.05v2.8M505.90,180.05v2.8M333.7,173.90h4.2M333.7,141.30h4.2M333.7,108.70h4.2M333.7,76.10h4.2M333.7,43.50h4.2M333.7,157.60h2.8M333.7,125.00h2.8M333.7,92.40h2.8M333.7,59.80h2.8M333.7,27.20h2.8" stroke="#080808" stroke-width="1.1" fill="none"/>
<text x="358.90" y="193.85" text-anchor="middle" class="tk">500</text>
<text x="400.90" y="193.85" text-anchor="middle" class="tk">1000</text>
<text x="442.90" y="193.85" text-anchor="middle" class="tk">1500</text>
<text x="484.90" y="193.85" text-anchor="middle" class="tk">2000</text>
<text x="526.90" y="193.85" text-anchor="middle" class="tk">2500</text>
<text x="329.80" y="176.80" text-anchor="end" class="tk">0</text>
<text x="329.80" y="144.20" text-anchor="end" class="tk">5</text>
<text x="329.80" y="111.60" text-anchor="end" class="tk">10</text>
<text x="329.80" y="79.00" text-anchor="end" class="tk">15</text>
<text x="329.80" y="46.40" text-anchor="end" class="tk">20</text>
<text x="329.80" y="13.80" text-anchor="end" class="tk">25</text>
<text x="438.35" y="211.95" text-anchor="middle" class="tt">Wavelength (nm)</text>
<text transform="translate(309.20,90.53) rotate(-90)" text-anchor="middle" class="tt">Reflectance (%)</text>
<text x="351.30" y="40.60" class="lt">(b)</text>
<g clip-path="url(#cb)">
<path d="M337.6,48.2L337.6,47.9L337.7,47.5L337.7,47.0L337.7,46.5L337.8,45.9L337.8,45.4L337.8,44.7L337.9,44.1L337.9,43.4L338.0,42.7L338.0,42.0L338.1,41.3L338.1,40.6L338.2,39.8L338.2,39.1L338.3,38.5L338.4,37.8L338.4,37.2L338.5,36.6L338.5,36.0L338.6,35.3L338.6,34.5L338.7,33.7L338.8,32.8L338.8,32.0L338.9,31.2L339.0,30.4L339.0,29.6L339.1,28.9L339.2,28.3L339.2,27.7L339.3,27.3L339.4,26.9L339.4,26.6L339.5,26.5L339.6,26.5L339.7,26.7L339.8,27.0L339.8,27.5L339.9,28.1L340.0,28.8L340.1,29.6L340.2,30.4L340.2,31.3L340.3,32.2L340.4,33.1L340.5,34.0L340.5,34.5L340.6,35.0L340.6,35.5L340.7,36.1L340.7,36.7L340.8,37.3L340.8,37.9L340.9,38.5L340.9,39.1L340.9,39.7L341.0,40.4L341.0,41.0L341.1,41.7L341.1,42.4L341.2,43.0L341.2,43.7L341.3,44.4L341.3,45.0L341.4,45.7L341.4,46.3L341.5,47.0L341.5,47.6L341.5,48.2L341.6,48.8L341.6,49.4L341.7,50.1L341.7,50.7L341.8,51.4L341.8,52.0L341.9,52.6L341.9,53.3L342.0,53.9L342.0,54.6L342.1,55.2L342.1,55.8L342.2,56.5L342.2,57.1L342.3,57.7L342.3,58.3L342.4,58.9L342.4,59.5L342.5,60.0L342.6,60.6L342.6,61.1L342.7,61.6L342.8,62.4L342.9,63.1L343.0,63.9L343.2,64.6L343.3,65.3L343.4,66.0L343.6,66.7L343.7,67.4L343.8,68.0L344.0,68.5L344.1,69.0L344.2,69.5L344.4,69.9L344.5,70.2L344.6,70.5L345.1,71.1L345.5,70.4L345.9,68.6L346.0,68.2L346.0,67.7L346.1,67.1L346.2,66.5L346.3,65.8L346.4,65.0L346.4,64.2L346.5,63.4L346.6,62.5L346.7,61.7L346.8,60.9L346.9,60.1L346.9,59.3L347.0,58.6L347.1,57.9L347.2,57.4L347.3,56.8L347.4,56.4L347.4,56.1L347.5,56.0L347.6,55.9L347.7,56.0L347.7,56.1L347.8,56.4L347.9,56.7L348.0,57.2L348.0,57.7L348.1,58.2L348.2,58.9L348.2,59.5L348.3,60.2L348.4,61.0L348.5,61.7L348.5,62.5L348.6,63.3L348.7,64.1L348.7,64.9L348.8,65.7L348.9,66.5L348.9,67.3L349.0,68.0L349.0,68.7L349.1,69.3L349.2,69.9L349.2,70.5L349.3,71.2L349.3,71.8L349.4,72.4L349.4,73.0L349.5,73.7L349.5,74.3L349.5,74.9L349.6,75.6L349.6,76.2L349.7,76.8L349.7,77.4L349.8,78.1L349.8,78.7L349.9,79.3L349.9,79.9L350.0,80.5L350.0,81.0L350.1,81.6L350.1,82.2L350.2,82.7L350.3,83.4L350.4,84.1L350.5,84.7L350.6,85.4L350.7,86.0L350.8,86.7L350.9,87.3L351.0,87.9L351.1,88.5L351.2,89.1L351.3,89.7L351.4,90.2L351.5,90.8L351.7,91.3L351.8,91.9L352.0,92.4L352.1,92.9L352.3,93.6L352.6,94.3L352.8,94.9L353.1,95.5L353.4,96.1L353.7,96.7L354.0,97.3L354.2,97.8L354.5,98.4L354.8,98.9L355.1,99.4L355.3,99.9L355.6,100.6L355.9,101.3L356.2,102.0L356.5,102.7L356.8,103.3L357.0,103.9L357.3,104.4L357.6,104.7L357.8,105.0L358.3,104.9L358.7,104.1L359.1,103.4L359.7,103.3L360.0,103.6L360.3,104.1L360.6,104.7L360.9,105.3L361.2,106.1L361.6,106.8L361.9,107.5L362.2,108.1L362.6,108.5L362.9,108.8L363.4,108.9L364.0,108.5L364.5,108.0L365.0,107.4L365.6,107.0L366.1,106.9L366.5,107.1L367.0,107.5L367.4,108.0L367.8,108.6L368.3,109.2L368.8,109.7L369.3,110.1L369.9,110.4L370.5,110.7L371.2,110.9L371.8,111.0L372.5,111.1L373.1,111.1L373.7,111.0L374.2,110.7L374.7,110.2L375.1,109.6L375.5,108.9L376.0,108.3L376.4,107.8L376.9,107.5L377.5,107.4L378.1,107.5L378.7,107.8L379.3,108.1L380.0,108.5L380.7,108.8L381.2,109.0L381.8,109.3L382.4,109.7L383.0,110.0L383.6,110.3L384.2,110.6L384.8,110.8L385.3,111.0L385.8,111.0L386.4,110.9L386.9,110.7L387.3,110.3L387.8,109.9L388.2,109.4L388.6,108.8L389.0,108.2L389.3,107.7L389.5,107.2L389.7,106.6L390.0,105.9L390.2,105.2L390.4,104.6L390.6,103.9L390.8,103.3L391.0,102.7L391.3,102.2L391.5,101.8L392.1,101.0L392.8,100.5L393.5,100.3L394.1,100.5L394.5,100.8L394.8,101.1L395.1,101.6L395.5,102.2L395.8,102.9L396.2,103.6L396.6,104.4L396.8,104.9L397.1,105.4L397.4,106.1L397.6,106.7L397.9,107.4L398.2,108.0L398.5,108.7L398.8,109.4L399.0,110.0L399.3,110.5L399.6,111.0L399.8,111.4L400.4,112.1L400.9,112.7L401.4,113.0L401.9,113.1L402.4,113.0L402.8,112.9L403.1,112.7L403.5,112.4L403.8,112.0L404.2,111.4L404.5,110.6L404.9,109.5L405.0,109.1L405.1,108.6L405.2,108.1L405.4,107.6L405.5,107.0L405.6,106.4L405.7,105.8L405.8,105.2L406.0,104.5L406.1,103.8L406.2,103.1L406.3,102.4L406.4,101.7L406.6,101.0L406.7,100.3L406.8,99.6L406.9,99.0L407.0,98.3L407.1,97.7L407.2,97.1L407.3,96.5L407.4,96.0L407.5,95.5L407.7,94.7L407.8,93.9L407.9,93.2L408.0,92.6L408.1,92.0L408.2,91.4L408.3,90.9L408.4,90.4L408.5,89.8L408.6,89.3L408.7,88.7L408.9,88.0L409.0,87.4L409.2,86.8L409.3,86.2L409.5,85.6L409.7,84.9L409.9,84.2L410.0,83.6L410.2,82.9L410.4,82.3L410.6,81.7L410.8,81.1L411.0,80.5L411.1,80.0L411.3,79.5L411.5,79.1L411.9,78.2L412.3,77.5L412.7,77.0L413.1,76.6L413.5,76.4L414.0,76.3L414.4,76.4L414.8,76.6L415.3,76.9L415.7,77.3L416.2,77.8L416.7,78.4L417.2,79.1L417.5,79.5L417.7,79.9L418.0,80.4L418.2,81.0L418.5,81.5L418.7,82.1L419.0,82.7L419.3,83.3L419.6,83.9L419.8,84.5L420.1,85.1L420.4,85.7L420.7,86.2L421.0,86.7L421.4,87.3L421.7,87.9L422.1,88.5L422.5,89.1L422.9,89.6L423.2,90.2L423.6,90.7L424.0,91.2L424.4,91.7L424.8,92.1L425.1,92.5L425.5,92.8L426.2,93.3L426.8,93.5L427.4,93.6L428.0,93.6L428.6,93.5L429.3,93.3L429.8,93.1L430.2,92.8L430.7,92.4L431.2,91.9L431.8,91.5L432.3,91.0L432.8,90.6L433.2,90.2L433.7,89.9L434.4,89.6L435.0,89.3L435.7,89.0L436.3,88.9L436.9,88.9L437.5,89.0L438.0,89.2L438.5,89.6L438.9,90.0L439.4,90.5L439.8,91.1L440.2,91.8L440.7,92.5L441.0,93.0L441.2,93.5L441.5,94.0L441.7,94.6L442.0,95.1L442.3,95.7L442.5,96.4L442.8,97.0L443.1,97.6L443.3,98.3L443.6,98.9L443.9,99.5L444.2,100.0L444.4,100.6L444.7,101.1L445.0,101.7L445.2,102.3L445.5,102.8L445.8,103.4L446.1,104.0L446.4,104.5L446.6,105.1L446.9,105.6L447.2,106.1L447.4,106.6L447.7,107.1L448.0,107.7L448.4,108.3L448.7,108.9L449.0,109.5L449.4,110.0L449.7,110.5L450.0,111.0L450.3,111.4L450.6,111.8L450.9,112.2L451.4,112.7L451.8,113.2L452.2,113.5L452.7,113.8L453.2,114.1L453.8,114.5L454.3,114.8L454.8,115.1L455.3,115.5L455.9,115.8L456.5,116.2L457.1,116.5L457.7,116.8L458.3,117.1L458.9,117.3L459.5,117.5L460.2,117.6L460.9,117.7L461.5,117.8L462.2,117.8L462.8,117.8L463.4,117.7L464.0,117.7L464.7,117.6L465.4,117.5L466.0,117.4L466.6,117.2L467.2,116.9L467.8,116.5L468.2,116.2L468.6,115.8L469.1,115.4L469.5,114.9L469.9,114.4L470.3,113.9L470.7,113.3L471.2,112.7L471.6,112.0L471.9,111.6L472.1,111.1L472.4,110.5L472.6,110.0L472.9,109.4L473.2,108.8L473.4,108.2L473.7,107.6L473.9,107.0L474.2,106.4L474.5,105.8L474.7,105.2L475.0,104.7L475.2,104.2L475.5,103.7L475.9,103.0L476.3,102.4L476.6,101.8L477.0,101.3L477.4,100.8L477.7,100.3L478.1,99.8L478.5,99.4L478.9,99.0L479.3,98.6L479.9,98.1L480.5,97.7L481.2,97.4L481.8,97.2L482.5,97.0L483.1,96.8L483.7,96.7L484.4,96.6L485.0,96.6L485.6,96.7L486.2,96.8L486.8,97.0L487.5,97.4L487.9,97.7L488.3,98.0L488.8,98.4L489.2,98.8L489.7,99.2L490.1,99.7L490.6,100.2L491.1,100.7L491.5,101.3L492.0,101.8L492.4,102.2L492.8,102.7L493.2,103.2L493.6,103.6L494.0,104.1L494.4,104.7L494.8,105.2L495.2,105.7L495.6,106.2L496.0,106.7L496.4,107.2L496.7,107.7L497.1,108.2L497.5,108.8L497.9,109.3L498.3,109.9L498.6,110.4L499.0,111.0L499.3,111.5L499.7,112.0L500.0,112.5L500.3,113.0L500.6,113.5L500.9,113.9L501.3,114.5L501.7,115.0L502.0,115.6L502.4,116.1L502.7,116.5L503.1,117.0L503.5,117.5L503.8,117.8L504.1,118.5L504.5,119.1L504.8,119.3L505.2,120.3L505.5,120.5L505.9,121.1L506.3,121.5L506.6,122.8L507.0,123.1L507.3,123.7L507.7,124.1L508.0,124.1L508.4,124.9L508.7,125.6L509.1,125.8L509.4,127.1L509.8,127.0L510.1,127.3L510.5,128.5L510.9,128.3L511.3,129.7L511.7,129.7L512.1,130.3L512.5,130.6L512.9,131.3L513.3,131.4L513.7,131.8L514.1,133.1L514.6,132.9L515.0,134.0L515.5,133.9L516.0,135.1L516.5,135.5L516.9,135.8L517.3,136.2L517.7,136.5L518.2,137.3L518.5,137.3L518.8,138.3L519.1,139.2L519.5,139.2L519.9,140.4L520.3,140.9L520.7,140.9L521.1,141.4L521.5,142.0L521.8,142.6L522.0,143.7L522.1,143.7L522.2,144.0L522.4,144.7L522.4,146.0L522.5,147.0L522.6,147.1L522.7,147.7L522.8,148.6L522.9,149.8L523.1,150.2L523.2,151.3L523.3,151.8L523.4,151.9L523.5,151.2L523.5,150.7L523.6,150.3L523.6,150.0L523.7,148.6L523.7,148.0L523.8,146.9L523.9,146.0L524.0,145.4L524.1,145.8L524.5,145.8L524.9,146.2L525.4,147.4L525.9,147.9L526.5,147.8L527.1,147.2L527.7,146.3L528.3,147.2L528.9,147.8L529.5,147.8L530.2,147.7L530.8,146.6L531.4,146.3L531.6,146.5L531.8,147.8L531.9,147.8L532.0,148.5L532.2,149.9L532.3,150.3L532.8,149.6L533.2,149.3L533.5,149.3L533.8,150.5L534.1,150.7L534.2,150.5L534.3,149.9L534.3,149.3L534.4,148.9L534.5,148.8L534.5,148.1L534.6,147.0L534.6,145.9L534.7,144.8L534.7,145.0L534.7,144.0L534.8,143.6L534.8,142.2L534.8,141.7L534.8,141.7L534.9,140.9L534.9,140.3L534.9,139.3L534.9,138.4L534.9,137.9L534.9,137.5L534.9,136.3L535.0,135.9L535.0,135.1L535.0,135.1L535.0,134.0L535.0,134.3" stroke="#0a0a0a" stroke-width="1.3" fill="none" stroke-linejoin="round" stroke-linecap="butt"/>
<path d="M337.5,164.2L337.6,163.8L337.8,163.4L337.9,162.8L338.1,162.2L338.3,161.5L338.5,160.8L338.8,160.1L339.0,159.5L339.2,159.0L339.4,158.5L339.9,157.6L340.3,156.9L340.8,156.5L341.3,156.3L341.9,156.6L342.5,157.3L343.1,157.8L343.8,157.8L344.1,157.5L344.4,157.0L344.7,156.4L345.1,155.7L345.4,155.0L345.7,154.3L346.1,153.6L346.4,153.0L346.7,152.4L347.0,152.1L347.6,151.9L348.1,152.3L348.7,152.8L349.5,152.7L349.9,152.5L350.3,152.2L350.7,151.9L351.1,151.5L351.6,151.1L352.0,150.7L352.5,150.2L353.0,149.7L353.6,149.3L354.1,148.8L354.6,148.3L355.0,147.9L355.4,147.5L355.9,147.1L356.3,146.7L356.8,146.3L357.3,145.9L357.7,145.4L358.2,145.0L358.7,144.6L359.1,144.1L359.6,143.7L360.1,143.3L360.5,142.9L361.0,142.5L361.5,142.1L362.0,141.7L362.5,141.3L363.0,140.9L363.5,140.5L364.0,140.1L364.5,139.7L364.9,139.4L365.4,139.0L365.9,138.6L366.4,138.2L366.9,137.9L367.4,137.5L367.9,137.1L368.5,136.7L369.0,136.3L369.6,135.9L370.1,135.5L370.6,135.1L371.2,134.7L371.7,134.3L372.2,134.0L372.7,133.6L373.2,133.3L373.7,133.0L374.3,132.6L375.0,132.3L375.6,131.9L376.2,131.6L376.8,131.3L377.3,131.1L377.9,130.8L378.3,130.6L378.8,130.5L379.6,130.5L380.2,130.7L380.7,130.9L381.4,130.8L381.9,130.5L382.4,130.1L382.9,129.7L383.5,129.2L384.1,128.7L384.6,128.2L385.2,127.9L385.9,127.6L386.5,127.5L387.2,127.3L387.9,127.2L388.5,127.1L389.0,127.0L389.7,126.8L390.2,126.5L390.9,126.0L391.3,125.7L391.7,125.3L392.1,124.8L392.6,124.4L393.1,123.9L393.6,123.5L394.1,123.1L394.7,122.8L395.3,122.6L395.9,122.5L396.6,122.5L397.2,122.5L397.9,122.5L398.6,122.5L399.2,122.4L399.8,122.2L400.3,122.0L400.9,121.8L401.3,121.5L401.8,121.2L402.3,120.9L402.7,120.4L403.2,119.8L403.6,119.0L403.8,118.6L404.0,118.1L404.2,117.6L404.4,117.0L404.5,116.4L404.7,115.8L404.9,115.1L405.1,114.5L405.3,113.8L405.4,113.1L405.6,112.4L405.8,111.7L406.0,111.1L406.1,110.4L406.3,109.8L406.5,109.2L406.6,108.7L406.8,108.2L407.1,107.5L407.3,106.8L407.6,106.2L407.8,105.7L408.1,105.2L408.3,104.7L408.5,104.2L408.8,103.7L409.0,103.2L409.3,102.6L409.5,102.0L409.7,101.5L409.9,100.9L410.1,100.3L410.2,99.7L410.4,99.0L410.6,98.4L410.8,97.7L410.9,97.1L411.1,96.4L411.3,95.8L411.5,95.2L411.7,94.7L411.9,94.2L412.1,93.7L412.5,92.9L412.8,92.2L413.2,91.5L413.6,90.9L414.0,90.3L414.4,89.9L414.9,89.6L415.3,89.5L415.7,89.6L416.2,89.8L416.7,90.3L417.2,90.8L417.6,91.4L418.1,92.0L418.6,92.6L419.1,93.1L419.6,93.6L420.1,94.1L420.6,94.7L421.1,95.2L421.6,95.7L422.0,96.2L422.5,96.6L422.9,96.9L423.6,97.2L424.2,97.3L424.8,97.2L425.5,96.9L426.0,96.6L426.5,96.2L427.0,95.7L427.5,95.1L428.1,94.7L428.7,94.3L429.3,94.1L429.9,94.1L430.5,94.2L431.1,94.3L431.8,94.6L432.4,94.8L433.1,95.1L433.8,95.4L434.4,95.6L435.0,95.8L435.6,96.0L436.1,96.2L436.7,96.3L437.3,96.5L437.9,96.8L438.5,97.0L439.0,97.2L439.5,97.5L440.0,97.8L440.5,98.2L441.0,98.6L441.5,99.0L441.9,99.4L442.4,99.8L442.8,100.3L443.3,100.7L443.8,101.2L444.3,101.7L444.8,102.3L445.2,102.8L445.7,103.4L446.2,103.8L446.7,104.2L447.1,104.5L447.8,104.7L448.4,104.6L449.1,104.4L449.7,104.1L450.3,103.9L450.9,103.6L451.5,103.1L452.0,102.6L452.5,102.3L453.0,102.5L453.2,102.8L453.4,103.2L453.6,103.8L453.8,104.4L453.9,105.1L454.1,105.8L454.2,106.6L454.4,107.4L454.5,108.2L454.6,108.8L454.7,109.4L454.8,110.1L454.8,110.8L454.9,111.6L455.0,112.3L455.0,113.1L455.1,113.8L455.2,114.5L455.3,115.1L455.4,115.6L455.5,116.1L455.7,116.5L456.2,117.1L456.8,117.3L457.5,117.3L458.2,117.0L458.9,116.8L459.4,116.6L460.0,116.3L460.5,115.9L461.1,115.5L461.6,115.2L462.2,114.8L462.7,114.5L463.4,114.1L464.0,113.8L464.6,113.5L465.3,113.3L465.9,113.3L466.5,113.4L467.2,113.7L467.8,114.0L468.4,114.4L469.1,114.8L469.6,115.1L470.1,115.5L470.6,115.9L471.2,116.3L471.7,116.6L472.3,116.8L472.9,116.8L473.4,116.7L474.0,116.4L474.6,116.1L475.2,115.7L475.7,115.3L476.3,114.8L476.9,114.4L477.4,113.9L477.9,113.5L478.3,113.0L478.7,112.5L479.2,111.9L479.6,111.4L480.0,110.9L480.4,110.4L480.8,110.0L481.2,109.7L481.9,109.3L482.5,109.1L483.1,109.0L483.7,109.1L484.4,109.2L484.9,109.4L485.4,109.7L486.0,110.0L486.5,110.4L487.1,110.8L487.7,111.1L488.2,111.4L488.8,111.7L489.5,111.9L490.2,112.1L490.8,112.2L491.4,112.4L492.0,112.6L492.7,113.0L493.2,113.5L493.8,113.8L494.5,113.9L495.0,113.7L495.5,113.5L496.1,113.1L496.7,112.7L497.3,112.2L497.8,111.8L498.4,111.4L499.0,111.0L499.5,110.6L500.1,110.2L500.7,109.7L501.2,109.3L501.7,109.2L502.2,108.7L503.0,108.3L503.6,108.3L504.4,108.2L505.0,108.7L505.6,108.5L506.2,109.4L506.9,109.1L507.7,109.6L508.3,110.1L508.9,109.8L509.6,110.1L510.3,109.9L511.0,109.2L511.7,110.2L512.3,110.1L512.9,110.1L513.4,110.3L513.9,111.4L514.4,111.5L514.9,112.4L515.4,112.6L515.9,113.2L516.4,113.1L516.9,113.6L517.4,113.8L518.0,113.8L518.5,114.9L519.0,114.5L519.5,115.3L520.0,115.8L520.6,115.8L521.2,115.5L521.7,116.6L522.3,116.8L522.8,116.6L523.2,116.8L523.6,117.8L523.9,117.9L524.2,119.4L524.5,119.5L524.7,120.1L525.0,120.4L525.6,121.3L526.2,122.1L526.8,121.6L527.2,121.3L527.7,120.8L528.2,120.3L528.6,120.9L529.0,121.4L529.5,122.0L530.0,122.9L530.5,123.3L530.9,123.1L531.5,124.2L532.1,123.1L532.7,122.8L533.2,122.6L534.0,123.5L534.5,124.0" stroke="#ff1414" stroke-width="1.5" fill="none" stroke-linejoin="round" stroke-linecap="butt"/>
<path d="M337.5,169.9L337.9,169.8L338.4,169.7L339.1,169.5L339.8,169.4L340.6,169.3L341.2,169.3L341.8,169.3L342.4,169.3L343.1,169.3L343.8,169.3L344.5,169.4L345.1,169.3L345.7,169.3L346.4,169.1L347.1,168.9L347.6,168.6L348.2,168.4L348.9,168.3L349.5,168.4L350.1,168.5L350.7,168.7L351.4,168.9L352.0,169.1L352.7,169.2L353.4,169.3L354.0,169.3L354.6,169.3L355.2,169.2L355.8,169.2L356.5,169.1L357.1,168.9L357.8,168.8L358.5,168.6L359.0,168.4L359.6,168.3L360.1,168.1L360.7,167.9L361.3,167.6L361.9,167.4L362.5,167.1L363.0,166.9L363.6,166.6L364.2,166.4L364.8,166.1L365.4,165.8L366.0,165.6L366.5,165.3L367.1,165.0L367.7,164.7L368.3,164.4L368.9,164.1L369.5,163.8L370.0,163.5L370.6,163.2L371.2,162.9L371.7,162.6L372.3,162.3L372.8,162.0L373.3,161.6L373.8,161.3L374.4,161.0L374.9,160.6L375.4,160.3L375.9,160.0L376.4,159.7L377.0,159.4L377.5,159.1L378.1,158.8L378.7,158.6L379.3,158.3L379.9,158.1L380.5,157.8L381.1,157.6L381.7,157.4L382.2,157.2L382.8,157.0L383.4,156.7L383.9,156.5L384.5,156.2L385.1,156.0L385.7,155.7L386.3,155.5L386.9,155.2L387.4,154.9L388.0,154.6L388.5,154.3L389.0,154.0L389.5,153.6L390.0,153.1L390.5,152.6L391.0,152.0L391.4,151.5L391.9,151.0L392.3,150.6L392.8,150.2L393.4,149.8L394.1,149.6L394.7,149.4L395.4,149.2L396.0,149.1L396.6,148.9L397.3,148.7L398.0,148.6L398.7,148.5L399.4,148.3L400.0,148.1L400.5,147.9L401.0,147.7L401.5,147.4L402.0,146.8L402.5,145.8L402.7,145.4L402.8,145.0L403.0,144.5L403.2,144.0L403.4,143.5L403.6,142.9L403.8,142.4L404.0,141.7L404.2,141.1L404.3,140.5L404.5,139.8L404.7,139.1L404.9,138.4L405.1,137.7L405.3,137.0L405.5,136.3L405.7,135.6L405.8,135.1L406.0,134.5L406.1,133.9L406.3,133.3L406.4,132.7L406.5,132.1L406.7,131.5L406.8,130.8L407.0,130.2L407.1,129.5L407.2,128.8L407.4,128.2L407.5,127.5L407.6,126.9L407.8,126.2L407.9,125.6L408.1,125.0L408.2,124.4L408.3,123.8L408.5,123.2L408.6,122.6L408.8,122.1L408.9,121.6L409.1,120.8L409.3,120.1L409.5,119.4L409.8,118.7L410.0,118.1L410.2,117.4L410.4,116.8L410.6,116.2L410.8,115.6L411.0,115.1L411.2,114.6L411.5,114.1L411.7,113.6L411.9,113.1L412.1,112.7L412.6,111.9L413.0,111.1L413.4,110.5L413.9,110.0L414.3,109.6L414.8,109.3L415.3,109.2L415.8,109.3L416.3,109.6L416.8,110.0L417.3,110.6L417.9,111.2L418.5,111.7L419.1,112.1L419.6,112.4L420.2,112.6L420.7,112.9L421.3,113.1L421.9,113.4L422.5,113.6L423.1,113.7L423.7,113.9L424.2,114.0L424.9,114.0L425.5,114.0L426.1,113.9L426.7,113.7L427.4,113.6L428.0,113.6L428.6,113.7L429.1,113.9L429.7,114.2L430.2,114.6L430.7,115.0L431.3,115.4L431.8,115.8L432.4,116.2L433.1,116.5L433.7,116.7L434.3,116.8L434.9,117.0L435.6,117.1L436.3,117.2L436.9,117.3L437.6,117.4L438.3,117.5L438.9,117.7L439.5,117.8L440.2,118.0L440.9,118.2L441.5,118.5L442.2,118.8L442.8,119.0L443.4,119.3L443.9,119.5L444.5,119.7L445.2,120.0L445.9,120.3L446.5,120.6L447.1,120.9L447.8,121.0L448.4,121.0L449.0,120.8L449.5,120.5L450.1,120.1L450.7,119.7L451.3,119.2L451.8,118.8L452.2,118.5L453.0,117.7L453.5,117.0L454.1,117.2L454.3,117.5L454.4,118.1L454.6,118.7L454.7,119.4L454.9,120.2L455.1,121.0L455.3,121.7L455.5,122.4L455.7,123.0L456.0,123.5L456.5,124.0L457.0,124.3L457.6,124.5L458.2,124.7L458.9,124.8L459.5,124.9L460.2,125.0L460.8,125.1L461.4,125.2L462.0,125.3L462.7,125.3L463.3,125.4L464.0,125.5L464.7,125.7L465.3,125.9L465.8,126.1L466.3,126.4L466.8,126.7L467.3,127.0L467.8,127.4L468.4,127.7L468.9,128.1L469.4,128.4L469.9,128.8L470.4,129.1L471.0,129.4L471.5,129.8L472.1,130.1L472.6,130.4L473.2,130.8L473.8,131.1L474.3,131.4L474.9,131.7L475.5,131.9L476.1,132.1L476.7,132.4L477.4,132.6L478.0,132.9L478.6,133.0L479.3,133.2L479.9,133.3L480.6,133.3L481.2,133.3L481.8,133.2L482.3,133.0L482.9,132.8L483.5,132.5L484.1,132.2L484.7,131.8L485.2,131.5L485.8,131.1L486.4,130.7L486.9,130.4L487.4,130.1L488.0,129.7L488.5,129.3L489.0,129.0L489.5,128.6L490.0,128.2L490.5,127.8L491.0,127.4L491.5,126.9L492.0,126.5L492.5,126.1L492.9,125.6L493.4,125.2L493.9,124.7L494.3,124.3L494.8,123.8L495.2,123.3L495.7,122.8L496.2,122.4L496.6,121.9L497.1,121.5L497.6,121.0L498.1,120.6L498.7,120.1L499.2,119.7L499.7,119.2L500.2,118.8L500.7,118.4L501.2,118.1L501.7,117.6L502.2,117.4L502.9,117.0L503.5,116.8L504.1,116.3L504.7,116.1L505.3,116.2L506.0,115.9L506.6,116.1L507.2,115.7L507.8,115.8L508.4,116.6L509.0,116.5L509.6,116.7L510.2,117.2L510.8,117.0L511.4,116.8L512.1,117.8L512.7,117.7L513.3,118.0L514.0,118.1L514.6,118.7L515.3,118.2L515.9,118.9L516.5,118.7L517.1,119.1L517.7,119.4L518.3,119.3L518.8,119.3L519.4,120.0L520.0,120.5L520.5,120.6L521.1,120.7L521.6,121.3L522.1,121.1L522.6,121.4L523.1,121.9L523.6,122.8L524.1,122.4L524.7,122.6L525.3,122.8L526.0,122.9L526.6,123.5L527.2,124.1L527.7,124.9L528.1,124.8L528.4,125.4L528.7,125.9L529.0,126.6L529.2,127.7L529.5,128.1L529.7,128.4L530.0,128.7L530.5,130.3L531.0,131.0L531.4,131.7L531.8,131.1L532.0,131.2L532.2,131.0L532.4,130.0L532.6,129.6L532.8,128.0L533.0,128.3L533.2,126.8L533.9,126.8L534.5,126.5" stroke="#00e400" stroke-width="1.5" fill="none" stroke-linejoin="round" stroke-linecap="butt"/>
<path d="M337.5,167.4L337.9,167.2L338.5,167.0L339.2,166.8L339.9,166.6L340.6,166.5L341.2,166.6L341.8,166.7L342.5,166.9L343.2,167.2L343.8,167.3L344.5,167.4L345.1,167.4L345.8,167.2L346.4,167.0L347.0,166.8L347.7,166.7L348.3,166.7L348.9,166.8L349.5,167.0L350.0,167.2L350.6,167.5L351.3,167.8L352.1,168.0L352.6,168.1L353.2,168.3L353.8,168.4L354.4,168.6L355.1,168.7L355.7,168.8L356.4,169.0L357.1,169.1L357.8,169.2L358.5,169.3L359.1,169.4L359.7,169.5L360.3,169.5L360.9,169.6L361.6,169.7L362.2,169.7L362.9,169.8L363.5,169.8L364.2,169.8L364.8,169.9L365.5,169.9L366.1,169.9L366.7,169.9L367.4,169.9L368.0,169.9L368.6,169.9L369.3,169.8L369.9,169.8L370.5,169.8L371.2,169.7L371.8,169.7L372.4,169.6L373.1,169.6L373.7,169.5L374.3,169.4L375.0,169.4L375.7,169.3L376.3,169.3L377.0,169.2L377.6,169.1L378.3,169.0L378.9,169.0L379.6,168.9L380.2,168.8L380.8,168.7L381.4,168.6L382.1,168.5L382.7,168.3L383.4,168.2L384.0,168.0L384.6,167.9L385.2,167.7L385.8,167.5L386.5,167.4L387.1,167.2L387.7,167.0L388.3,166.8L388.9,166.6L389.5,166.4L390.1,166.2L390.7,166.0L391.3,165.8L391.9,165.6L392.4,165.4L393.0,165.2L393.6,165.0L394.1,164.8L394.8,164.6L395.5,164.4L396.2,164.3L396.8,164.1L397.4,164.0L398.0,163.8L398.6,163.7L399.2,163.5L399.8,163.3L400.5,163.2L401.1,163.0L401.6,162.9L402.2,162.6L402.7,162.3L403.2,161.8L403.5,161.4L403.7,161.0L404.0,160.6L404.2,160.1L404.4,159.5L404.6,159.0L404.8,158.4L405.1,157.7L405.3,157.0L405.5,156.3L405.7,155.5L405.8,155.0L406.0,154.5L406.1,154.0L406.2,153.4L406.4,152.8L406.5,152.2L406.7,151.6L406.8,151.0L406.9,150.3L407.1,149.7L407.2,149.0L407.3,148.4L407.5,147.7L407.6,147.1L407.8,146.4L407.9,145.8L408.0,145.2L408.2,144.6L408.3,144.0L408.5,143.4L408.6,142.7L408.8,142.0L408.9,141.3L409.1,140.7L409.2,140.0L409.4,139.3L409.6,138.7L409.7,138.0L409.9,137.4L410.0,136.8L410.2,136.2L410.3,135.6L410.4,135.1L410.6,134.6L410.7,134.2L410.8,133.8L411.2,132.7L411.4,132.2L411.7,131.8L412.1,131.2L412.4,130.7L412.7,130.2L413.0,129.5L413.4,128.9L413.7,128.3L414.1,127.7L414.5,127.1L414.9,126.7L415.3,126.5L415.8,126.4L416.3,126.5L416.9,126.7L417.4,127.1L418.0,127.5L418.6,127.9L419.1,128.3L419.6,128.7L420.1,129.1L420.5,129.6L421.0,130.1L421.5,130.6L421.9,131.0L422.4,131.4L422.9,131.8L423.5,132.2L424.2,132.6L424.9,132.9L425.5,133.1L426.1,133.2L426.7,133.3L427.3,133.1L427.7,132.8L428.1,132.3L428.6,131.9L429.3,131.8L429.8,131.9L430.2,132.0L430.8,132.2L431.3,132.4L431.9,132.7L432.5,133.0L433.1,133.2L433.8,133.5L434.4,133.7L435.0,133.9L435.6,134.1L436.2,134.3L436.8,134.5L437.5,134.7L438.1,134.8L438.8,135.0L439.4,135.2L440.1,135.3L440.7,135.4L441.3,135.5L442.0,135.6L442.7,135.6L443.4,135.7L444.1,135.7L444.7,135.7L445.4,135.7L446.0,135.7L446.6,135.7L447.1,135.6L447.8,135.4L448.4,135.2L449.0,134.9L449.5,134.6L450.0,134.3L450.4,134.0L450.9,133.7L451.6,133.2L452.3,132.7L452.9,132.4L453.5,132.5L453.8,132.8L454.1,133.4L454.3,134.0L454.6,134.7L454.8,135.5L455.1,136.2L455.4,136.9L455.7,137.4L456.2,138.0L456.6,138.5L457.1,138.9L457.7,139.3L458.2,139.6L458.9,139.9L459.4,140.1L460.0,140.3L460.6,140.4L461.2,140.6L461.9,140.7L462.6,140.7L463.3,140.8L464.0,140.8L464.6,140.8L465.2,140.7L465.9,140.6L466.5,140.5L467.2,140.4L467.9,140.3L468.5,140.2L469.2,140.1L469.8,140.0L470.4,139.9L471.1,139.8L471.7,139.7L472.3,139.6L472.9,139.5L473.5,139.4L474.1,139.4L474.8,139.4L475.5,139.5L476.0,139.6L476.6,139.7L477.1,139.9L477.7,140.1L478.4,140.3L479.0,140.5L479.6,140.8L480.2,141.0L480.9,141.2L481.5,141.4L482.0,141.6L482.6,141.7L483.1,141.8L483.9,141.9L484.6,141.9L485.2,141.8L485.8,141.7L486.4,141.6L487.0,141.5L487.6,141.3L488.2,141.2L488.8,141.1L489.5,141.0L490.1,140.9L490.8,140.8L491.4,140.6L492.0,140.5L492.7,140.2L493.3,139.9L493.8,139.6L494.2,139.3L494.7,138.9L495.2,138.5L495.6,138.1L496.1,137.7L496.5,137.2L497.0,136.8L497.5,136.3L497.9,135.9L498.4,135.5L498.9,135.1L499.3,134.7L499.8,134.2L500.3,133.8L500.7,133.4L501.2,133.0L501.7,132.5L502.1,132.1L502.6,131.7L503.0,131.4L503.5,131.0L504.1,130.5L504.6,130.3L505.2,129.7L505.7,129.5L506.3,128.9L506.8,128.8L507.4,128.2L507.9,128.2L508.5,128.0L509.1,127.7L509.7,127.2L510.3,127.4L510.9,127.3L511.5,126.2L512.1,126.4L512.7,126.7L513.2,126.3L513.6,125.8L514.3,125.5L514.8,126.0L515.2,124.9L515.9,125.3L516.4,125.1L517.0,124.0L517.6,123.8L518.2,123.4L518.9,123.2L519.5,122.7L520.0,122.9L520.5,122.7L521.3,121.9L521.7,122.7L522.3,122.3L522.8,122.7L523.3,123.7L523.9,124.4L524.4,124.9L525.0,125.5L525.7,125.6L526.3,125.0L527.0,125.5L527.7,125.9L528.2,125.4L528.8,126.2L529.3,126.4L529.9,126.8L530.4,127.5L530.9,127.9L531.6,128.0L532.2,126.7L532.7,126.5L533.2,126.9L533.6,127.0L534.0,127.4L534.3,127.9L534.5,129.2L534.6,129.4L534.7,130.4L534.7,131.0L534.8,131.5L534.9,132.6L534.9,132.9L534.9,133.6L535.0,134.5L535.0,134.3" stroke="#1010ee" stroke-width="1.5" fill="none" stroke-linejoin="round" stroke-linecap="butt"/>
<path d="M337.5,168.0L337.8,167.7L338.3,167.3L338.8,166.8L339.4,166.3L340.0,165.9L340.6,165.7L341.2,165.7L341.8,165.9L342.5,166.1L343.2,166.4L343.8,166.6L344.5,166.7L345.1,166.6L345.8,166.4L346.4,166.2L347.0,165.9L347.7,165.7L348.3,165.7L348.9,165.8L349.5,166.1L350.0,166.4L350.6,166.7L351.3,167.1L352.1,167.4L352.6,167.6L353.1,167.8L353.6,168.0L354.2,168.2L354.8,168.4L355.4,168.6L356.0,168.8L356.6,169.0L357.2,169.2L357.9,169.3L358.5,169.5L359.1,169.6L359.7,169.7L360.3,169.8L360.9,169.9L361.6,170.0L362.2,170.1L362.9,170.2L363.5,170.3L364.2,170.3L364.8,170.4L365.5,170.4L366.1,170.5L366.7,170.6L367.3,170.6L367.9,170.6L368.5,170.7L369.1,170.7L369.7,170.7L370.3,170.8L371.0,170.8L371.6,170.8L372.3,170.8L373.0,170.8L373.7,170.8L374.2,170.8L374.8,170.8L375.3,170.8L375.9,170.8L376.5,170.8L377.1,170.7L377.7,170.7L378.3,170.7L378.9,170.7L379.6,170.7L380.2,170.6L380.8,170.6L381.4,170.6L382.1,170.6L382.7,170.5L383.3,170.5L383.9,170.5L384.5,170.5L385.1,170.5L385.7,170.5L386.4,170.4L387.0,170.4L387.7,170.4L388.3,170.4L388.9,170.4L389.6,170.4L390.2,170.4L390.8,170.4L391.4,170.3L392.0,170.3L392.5,170.3L393.1,170.3L393.6,170.2L394.1,170.2L394.9,170.1L395.7,170.1L396.4,170.0L397.1,170.0L397.8,169.9L398.4,169.8L399.0,169.7L399.5,169.6L400.0,169.5L400.5,169.3L401.2,169.0L401.7,168.8L402.0,168.5L402.4,168.1L402.8,167.6L403.2,166.9L403.4,166.5L403.7,166.0L403.9,165.6L404.2,165.0L404.4,164.5L404.7,163.9L404.9,163.3L405.2,162.6L405.5,162.0L405.7,161.3L405.9,160.7L406.2,160.0L406.4,159.3L406.6,158.8L406.7,158.2L406.9,157.6L407.0,157.0L407.2,156.4L407.3,155.8L407.5,155.2L407.6,154.6L407.8,153.9L407.9,153.3L408.0,152.7L408.2,152.0L408.3,151.4L408.5,150.8L408.6,150.2L408.8,149.7L408.9,149.1L409.1,148.4L409.3,147.8L409.5,147.1L409.6,146.5L409.8,145.8L410.0,145.2L410.2,144.5L410.4,143.9L410.6,143.4L410.8,142.8L410.9,142.2L411.1,141.7L411.3,141.2L411.5,140.8L411.9,140.0L412.2,139.3L412.6,138.7L413.0,138.2L413.3,137.7L413.7,137.4L414.0,137.0L414.6,136.4L415.2,136.0L415.9,136.1L416.3,136.3L416.8,136.7L417.3,137.2L417.8,137.7L418.4,138.2L419.1,138.8L419.5,139.1L420.0,139.5L420.5,139.9L421.0,140.4L421.5,140.8L422.1,141.2L422.6,141.6L423.1,142.0L423.7,142.3L424.2,142.6L424.8,142.9L425.4,143.1L426.1,143.3L426.7,143.4L427.3,143.5L427.9,143.6L428.6,143.7L429.3,143.9L429.9,144.1L430.5,144.2L431.1,144.4L431.7,144.5L432.4,144.7L433.0,144.9L433.7,145.0L434.3,145.2L435.0,145.4L435.6,145.6L436.2,145.8L436.8,146.0L437.4,146.1L438.0,146.3L438.6,146.5L439.2,146.7L439.8,146.9L440.3,147.1L440.9,147.3L441.5,147.5L442.0,147.7L442.6,147.9L443.2,148.2L443.8,148.5L444.4,148.8L444.9,149.0L445.4,149.3L446.0,149.4L446.5,149.6L447.1,149.6L447.7,149.5L448.3,149.4L448.9,149.2L449.5,148.9L450.2,148.7L450.7,148.4L451.3,148.1L451.8,147.9L452.2,147.7L453.1,147.2L453.6,146.9L454.1,147.1L454.3,147.5L454.5,148.1L454.7,148.7L454.8,149.5L455.0,150.2L455.3,150.9L455.7,151.4L456.2,151.8L456.8,152.1L457.4,152.4L458.1,152.6L458.8,152.8L459.5,152.9L460.2,153.0L460.8,153.0L461.4,153.0L462.0,153.0L462.6,152.9L463.3,152.7L463.9,152.6L464.6,152.5L465.3,152.3L465.9,152.2L466.5,152.0L467.1,151.8L467.8,151.7L468.4,151.5L469.1,151.3L469.8,151.1L470.4,150.9L471.0,150.7L471.6,150.5L472.3,150.3L472.9,150.0L473.5,149.8L474.1,149.5L474.7,149.3L475.4,149.1L476.0,148.9L476.7,148.8L477.3,148.8L477.9,148.8L478.5,148.8L479.2,148.8L479.8,148.9L480.5,149.0L481.1,149.1L481.8,149.1L482.5,149.2L483.1,149.2L483.7,149.2L484.4,149.2L485.0,149.1L485.7,149.1L486.4,149.0L487.0,149.0L487.6,148.9L488.3,148.9L488.9,148.8L489.5,148.8L490.2,148.8L490.8,148.8L491.4,148.8L492.1,148.9L492.7,148.9L493.3,148.9L493.9,148.8L494.4,148.7L495.0,148.5L495.5,148.2L496.0,147.9L496.4,147.6L496.9,147.2L497.3,146.7L497.7,146.3L498.2,145.8L498.6,145.4L499.1,144.9L499.5,144.5L500.0,144.1L500.4,143.7L500.9,143.3L501.3,142.8L501.8,142.4L502.3,142.0L502.7,141.6L503.2,141.2L503.6,140.9L504.1,140.5L504.7,140.1L505.2,139.7L505.8,139.3L506.3,139.0L506.9,138.5L507.5,138.4L508.0,138.0L508.6,137.5L509.3,137.7L509.9,137.0L510.6,136.9L511.3,136.8L512.0,136.7L512.6,136.2L513.2,136.6L513.9,136.6L514.5,136.1L515.1,136.2L515.6,136.0L516.2,136.1L516.8,135.6L517.3,136.0L517.9,136.4L518.4,136.5L519.0,137.8L519.5,137.8L520.0,137.6L520.5,138.3L521.3,138.0L522.0,137.4L522.6,137.0L523.2,137.3L523.6,137.2L524.0,138.4L524.3,139.1L524.6,139.3L525.0,140.4L525.5,139.4L526.1,139.0L526.7,139.1L527.3,138.3L527.7,138.8L528.2,139.5L528.6,140.0L529.0,140.6L529.5,140.9L530.2,140.8L530.9,140.0L531.7,140.4L532.3,139.8L532.7,139.8L533.1,140.7L533.5,141.7L533.8,142.1L534.1,142.7L534.3,143.3L534.5,143.8L534.7,145.0L534.8,145.5L534.9,145.9L535.0,146.4" stroke="#00e8e8" stroke-width="1.5" fill="none" stroke-linejoin="round" stroke-linecap="butt"/>
<path d="M337.5,164.2L337.9,163.9L338.5,163.5L339.2,163.1L340.0,162.9L340.6,162.9L341.2,163.0L341.9,163.1L342.6,163.3L343.3,163.3L343.9,163.3L344.5,163.2L345.0,162.9L345.5,162.5L345.9,162.0L346.3,161.5L346.7,160.9L347.1,160.3L347.6,159.7L348.0,159.2L348.4,158.7L348.8,158.2L349.3,157.7L349.7,157.1L350.1,156.6L350.6,156.1L351.0,155.7L351.5,155.3L352.1,154.9L352.7,154.6L353.2,154.4L353.8,154.1L354.5,154.0L355.2,153.8L355.9,153.7L356.5,153.6L357.1,153.5L357.7,153.5L358.3,153.5L359.0,153.4L359.7,153.4L360.3,153.4L361.0,153.4L361.7,153.4L362.3,153.4L362.9,153.4L363.6,153.4L364.2,153.4L364.8,153.4L365.4,153.5L366.1,153.5L366.7,153.5L367.3,153.6L368.0,153.6L368.6,153.7L369.2,153.8L369.8,153.9L370.4,154.0L371.0,154.1L371.6,154.3L372.3,154.4L372.9,154.6L373.6,154.7L374.3,154.9L375.0,155.0L375.6,155.1L376.2,155.2L376.8,155.3L377.4,155.4L378.0,155.5L378.7,155.6L379.4,155.7L380.0,155.8L380.7,155.9L381.4,156.0L382.0,156.0L382.7,156.1L383.3,156.2L383.9,156.3L384.6,156.4L385.2,156.5L385.9,156.5L386.5,156.6L387.2,156.7L387.8,156.8L388.4,156.8L389.0,156.9L389.6,157.0L390.2,157.0L390.9,157.1L391.5,157.2L392.1,157.3L392.7,157.4L393.3,157.5L394.0,157.6L394.6,157.8L395.3,157.9L395.9,158.0L396.5,158.1L397.1,158.2L397.7,158.3L398.2,158.4L398.7,158.5L399.2,158.5L400.1,158.6L400.8,158.6L401.5,158.7L402.1,158.6L402.6,158.4L403.2,158.0L403.6,157.7L403.9,157.3L404.2,156.9L404.5,156.4L404.9,155.9L405.2,155.3L405.5,154.8L405.8,154.2L406.1,153.5L406.4,152.9L406.6,152.4L406.9,151.8L407.1,151.3L407.4,150.6L407.6,150.0L407.8,149.4L408.1,148.7L408.3,148.1L408.5,147.5L408.8,146.9L409.0,146.3L409.3,145.8L409.5,145.3L409.9,144.6L410.2,144.0L410.6,143.4L410.9,142.9L411.3,142.4L411.7,141.9L412.0,141.5L412.4,141.1L412.7,140.8L413.4,140.2L414.0,139.9L414.6,139.8L415.3,139.9L415.8,140.0L416.2,140.2L416.7,140.5L417.2,140.8L417.8,141.2L418.4,141.6L419.1,142.1L419.5,142.4L419.9,142.7L420.4,143.1L420.9,143.5L421.4,143.9L421.9,144.3L422.4,144.8L422.9,145.2L423.5,145.6L424.0,146.1L424.5,146.5L425.0,146.8L425.5,147.2L426.0,147.6L426.6,147.9L427.1,148.3L427.6,148.6L428.1,148.9L428.6,149.3L429.2,149.6L429.7,149.9L430.2,150.2L430.7,150.5L431.3,150.7L431.8,151.0L432.4,151.3L433.0,151.5L433.5,151.8L434.1,152.0L434.7,152.2L435.3,152.4L435.9,152.6L436.5,152.8L437.0,153.0L437.6,153.3L438.2,153.5L438.8,153.8L439.4,154.1L439.9,154.4L440.5,154.7L441.1,155.0L441.6,155.3L442.2,155.6L442.8,155.9L443.3,156.2L443.9,156.5L444.5,156.7L445.1,156.9L445.7,157.1L446.3,157.3L446.9,157.5L447.5,157.7L448.2,157.9L448.8,158.1L449.3,158.2L449.9,158.3L450.4,158.5L450.9,158.6L451.7,158.8L452.4,158.9L453.1,158.9L453.7,159.0L454.2,159.1L454.7,159.3L455.2,159.8L455.5,160.5L455.9,161.1L456.6,161.6L457.1,161.7L457.6,161.8L458.2,161.9L458.8,162.0L459.5,162.0L460.2,162.1L460.9,162.1L461.6,162.1L462.4,162.2L462.9,162.3L463.5,162.3L464.1,162.4L464.7,162.4L465.3,162.5L466.0,162.6L466.6,162.7L467.3,162.7L467.9,162.8L468.5,162.8L469.2,162.8L469.8,162.8L470.4,162.8L471.0,162.8L471.7,162.7L472.3,162.6L473.0,162.5L473.6,162.3L474.2,162.2L474.9,162.0L475.5,161.9L476.1,161.8L476.7,161.7L477.4,161.6L478.0,161.5L478.6,161.5L479.3,161.4L479.9,161.4L480.5,161.4L481.2,161.4L481.8,161.4L482.4,161.4L483.1,161.4L483.7,161.4L484.3,161.4L485.0,161.5L485.6,161.5L486.2,161.5L486.9,161.6L487.6,161.6L488.3,161.7L488.9,161.8L489.6,161.8L490.3,161.9L490.9,162.0L491.6,162.0L492.2,162.1L492.7,162.2L493.3,162.2L494.1,162.3L494.8,162.3L495.4,162.4L496.0,162.4L496.6,162.4L497.2,162.5L497.8,162.3L498.4,162.5L499.0,162.4L499.7,161.9L500.3,162.1L501.0,161.7L501.6,161.6L502.2,161.7L502.9,161.6L503.5,160.8L504.1,161.1L504.8,160.9L505.4,161.0L506.0,159.9L506.6,160.7L507.2,159.9L507.9,159.6L508.5,160.0L509.1,160.1L509.8,160.1L510.5,159.4L511.2,159.7L511.8,158.8L512.5,159.7L513.1,158.9L513.6,159.0L514.4,158.5L515.0,158.3L515.6,158.2L516.2,158.7L516.8,158.6L517.5,158.5L518.2,158.2L518.8,157.4L519.5,157.6L520.2,157.1L520.8,158.1L521.5,157.8L522.3,158.6L522.9,158.1L523.4,158.0L524.0,158.0L524.7,157.4L525.3,157.3L525.9,157.7L526.5,158.0L527.1,157.4L527.8,157.9L528.4,158.1L529.0,158.7L529.5,159.3L530.0,158.9L530.4,160.1L530.8,160.5L531.1,161.9L531.5,162.6L531.8,162.5L532.0,162.2L532.3,161.1L532.5,160.5L532.7,159.9L532.8,159.0L533.0,158.3L533.2,158.7L533.7,157.3L534.2,157.5L534.5,157.1" stroke="#ff10d0" stroke-width="1.5" fill="none" stroke-linejoin="round" stroke-linecap="butt"/>
</g>
<path d="M477,21.60H497.5" stroke="#0a0a0a" stroke-width="1.6"/>
<text x="500.1" y="24.40" class="lb">0 min</text>
<path d="M477,33.67H497.5" stroke="#ff1414" stroke-width="1.6"/>
<text x="500.1" y="36.47" class="lb">1 min</text>
<path d="M477,45.74H497.5" stroke="#00e400" stroke-width="1.6"/>
<text x="500.1" y="48.54" class="lb">3 min</text>
<path d="M477,57.81H497.5" stroke="#1010ee" stroke-width="1.6"/>
<text x="500.1" y="60.61" class="lb">5 min</text>
<path d="M477,69.88H497.5" stroke="#00e8e8" stroke-width="1.6"/>
<text x="500.1" y="72.68" class="lb">8 min</text>
<path d="M477,81.95H497.5" stroke="#ff10d0" stroke-width="1.6"/>
<text x="500.1" y="84.75" class="lb">10 min</text>
<rect x="44.0" y="231.4" width="210.05" height="169.10" fill="none" stroke="#080808" stroke-width="1.5"/>
<path d="M69.20,400.5v4.2M111.20,400.5v4.2M153.20,400.5v4.2M195.20,400.5v4.2M237.20,400.5v4.2M48.20,400.5v2.8M90.20,400.5v2.8M132.20,400.5v2.8M174.20,400.5v2.8M216.20,400.5v2.8M44.0,390.80h4.2M44.0,350.90h4.2M44.0,311.00h4.2M44.0,271.10h4.2M44.0,370.85h2.8M44.0,330.95h2.8M44.0,291.05h2.8M44.0,251.15h2.8" stroke="#080808" stroke-width="1.1" fill="none"/>
<text x="69.20" y="414.30" text-anchor="middle" class="tk">500</text>
<text x="111.20" y="414.30" text-anchor="middle" class="tk">1000</text>
<text x="153.20" y="414.30" text-anchor="middle" class="tk">1500</text>
<text x="195.20" y="414.30" text-anchor="middle" class="tk">2000</text>
<text x="237.20" y="414.30" text-anchor="middle" class="tk">2500</text>
<text x="40.10" y="393.70" text-anchor="end" class="tk">30</text>
<text x="40.10" y="353.80" text-anchor="end" class="tk">40</text>
<text x="40.10" y="313.90" text-anchor="end" class="tk">50</text>
<text x="40.10" y="274.00" text-anchor="end" class="tk">60</text>
<text x="40.10" y="234.10" text-anchor="end" class="tk">70</text>
<text x="149.03" y="432.40" text-anchor="middle" class="tt">Wavelength (nm)</text>
<text transform="translate(18.70,310.95) rotate(-90)" text-anchor="middle" class="tt">Reflectance (%)</text>
<text x="60.50" y="260.90" class="lt">(c)</text>
<g clip-path="url(#cc)">
<path d="M48.2,282.7L48.2,282.4L48.2,282.0L48.2,281.6L48.3,281.1L48.3,280.7L48.3,280.1L48.3,279.6L48.3,279.0L48.3,278.4L48.4,277.8L48.4,277.1L48.4,276.5L48.4,275.8L48.4,275.1L48.5,274.4L48.5,273.6L48.5,272.9L48.5,272.2L48.6,271.5L48.6,270.7L48.6,270.0L48.6,269.3L48.7,268.6L48.7,267.9L48.7,267.2L48.7,266.5L48.8,265.9L48.8,265.2L48.8,264.6L48.8,264.0L48.8,263.5L48.9,263.0L48.9,262.5L48.9,262.0L48.9,261.0L49.0,260.1L49.0,259.3L49.1,258.5L49.1,257.8L49.2,257.1L49.2,256.5L49.2,255.9L49.3,255.4L49.3,254.9L49.4,254.4L49.4,254.0L49.4,253.5L49.5,253.2L49.5,252.8L49.6,252.1L49.7,251.4L49.9,251.4L50.1,251.9L50.2,252.7L50.4,253.3L50.9,252.9L51.0,253.1L51.1,253.3L51.2,253.9L51.3,254.7L51.4,255.5L51.4,255.9L51.5,256.3L51.5,256.8L51.5,257.3L51.6,257.8L51.6,258.4L51.6,258.9L51.7,259.6L51.7,260.2L51.7,260.8L51.8,261.5L51.8,262.2L51.8,262.9L51.9,263.6L51.9,264.3L52.0,264.9L52.0,265.6L52.0,266.3L52.1,267.0L52.1,267.6L52.2,268.2L52.2,268.9L52.3,269.4L52.3,270.0L52.4,270.7L52.4,271.4L52.5,272.0L52.5,272.7L52.6,273.4L52.7,274.0L52.7,274.7L52.8,275.3L52.8,276.0L52.9,276.6L53.0,277.2L53.0,277.8L53.1,278.4L53.2,278.9L53.2,279.5L53.3,280.0L53.4,280.5L53.4,281.0L53.5,281.5L53.6,282.4L53.8,283.2L53.9,283.9L54.0,284.6L54.1,285.3L54.3,285.9L54.4,286.5L54.5,287.0L54.7,287.4L54.8,287.8L55.1,288.4L55.5,289.0L56.1,288.8L56.2,288.5L56.4,288.1L56.5,287.5L56.6,286.9L56.7,286.2L56.9,285.5L57.0,284.7L57.1,284.0L57.2,283.4L57.3,282.7L57.4,281.9L57.4,281.1L57.5,280.3L57.6,279.5L57.7,278.8L57.8,278.2L57.8,277.7L57.9,277.5L58.0,277.4L58.1,277.5L58.1,277.7L58.2,278.1L58.3,278.5L58.4,279.0L58.4,279.6L58.5,280.2L58.6,281.0L58.6,281.8L58.7,282.6L58.8,283.5L58.8,284.4L58.9,285.3L58.9,285.8L59.0,286.3L59.0,286.8L59.0,287.3L59.1,287.9L59.1,288.5L59.1,289.1L59.1,289.7L59.2,290.3L59.2,290.9L59.2,291.6L59.3,292.3L59.3,292.9L59.3,293.6L59.3,294.3L59.4,294.9L59.4,295.6L59.4,296.3L59.5,296.9L59.5,297.6L59.5,298.2L59.6,298.9L59.6,299.5L59.6,300.1L59.6,300.7L59.7,301.2L59.7,301.8L59.7,302.5L59.8,303.2L59.8,303.8L59.9,304.5L59.9,305.1L59.9,305.7L60.0,306.3L60.0,306.9L60.0,307.5L60.1,308.1L60.1,308.7L60.2,309.2L60.2,309.8L60.2,310.4L60.3,311.0L60.3,311.5L60.3,312.1L60.4,312.7L60.4,313.3L60.5,313.9L60.5,314.5L60.5,315.1L60.6,315.7L60.6,316.4L60.7,317.0L60.7,317.7L60.7,318.3L60.8,319.0L60.8,319.6L60.9,320.3L60.9,321.0L60.9,321.6L61.0,322.3L61.0,322.9L61.1,323.5L61.1,324.2L61.2,324.8L61.2,325.4L61.3,325.9L61.3,326.5L61.4,327.1L61.4,327.6L61.5,328.4L61.5,329.1L61.6,329.8L61.7,330.4L61.8,331.0L61.9,331.6L61.9,332.2L62.0,332.8L62.1,333.4L62.2,334.0L62.3,334.6L62.4,335.2L62.5,335.8L62.6,336.5L62.7,337.1L62.8,337.6L62.9,338.2L63.0,338.8L63.1,339.4L63.2,340.1L63.3,340.7L63.4,341.3L63.5,341.9L63.6,342.5L63.7,343.1L63.9,343.8L64.0,344.4L64.1,345.0L64.2,345.6L64.4,346.1L64.5,346.7L64.7,347.3L64.8,348.0L65.0,348.6L65.1,349.2L65.3,349.8L65.5,350.4L65.6,351.0L65.8,351.6L66.0,352.1L66.2,352.7L66.3,353.3L66.5,353.9L66.7,354.5L66.9,355.0L67.1,355.6L67.3,356.2L67.5,356.8L67.7,357.5L68.0,358.1L68.2,358.7L68.4,359.3L68.7,359.9L68.9,360.5L69.1,361.1L69.4,361.7L69.6,362.3L69.8,362.8L70.1,363.4L70.3,363.9L70.6,364.6L70.9,365.2L71.1,365.8L71.4,366.3L71.7,366.9L72.0,367.5L72.3,368.0L72.6,368.6L72.9,369.1L73.2,369.7L73.5,370.3L73.8,370.8L74.1,371.4L74.4,371.9L74.7,372.5L75.0,373.1L75.3,373.7L75.6,374.3L76.0,374.8L76.3,375.4L76.6,375.9L77.0,376.4L77.3,376.9L77.7,377.4L78.1,377.9L78.6,378.4L79.1,378.9L79.5,379.3L80.0,379.7L80.5,380.1L81.0,380.5L81.5,380.9L81.9,381.2L82.4,381.5L82.8,381.8L83.4,382.2L84.0,382.6L84.6,382.9L85.2,383.1L85.7,383.3L86.2,383.5L86.6,383.7L87.3,383.9L87.7,383.9L88.5,384.1L88.9,384.3L89.5,384.5L90.0,384.7L90.6,384.9L91.2,385.2L91.9,385.4L92.5,385.7L93.0,385.9L93.7,386.2L94.4,386.5L95.1,386.7L95.7,387.0L96.3,387.3L96.8,387.5L97.6,388.1L98.2,388.6L98.7,388.8L99.1,388.6L99.3,388.1L99.5,387.5L99.6,386.9L99.7,386.5L99.8,385.9L99.8,385.3L99.9,384.6L100.0,383.9L100.1,383.1L100.2,382.4L100.2,381.7L100.3,381.0L100.4,380.3L100.5,379.8L100.6,379.3L100.8,378.2L101.1,377.5L101.4,377.0L101.9,376.7L102.4,376.7L103.0,376.8L103.6,377.0L104.3,377.2L105.0,377.5L105.7,377.7L106.3,377.9L107.0,378.1L107.7,378.4L108.3,378.6L108.9,378.8L109.5,379.0L110.3,379.2L110.9,379.5L111.5,379.6L112.1,379.5L112.6,379.2L113.1,378.8L113.5,378.2L114.0,377.4L114.2,377.0L114.4,376.5L114.5,376.1L114.7,375.6L114.9,375.0L115.1,374.4L115.3,373.8L115.5,373.1L115.7,372.4L115.9,371.6L116.0,371.1L116.2,370.6L116.3,370.1L116.5,369.5L116.6,369.0L116.8,368.4L116.9,367.8L117.1,367.2L117.2,366.6L117.4,366.0L117.6,365.3L117.7,364.7L117.9,364.1L118.0,363.4L118.2,362.8L118.3,362.1L118.5,361.5L118.6,360.9L118.8,360.4L118.9,359.8L119.0,359.2L119.2,358.6L119.3,358.0L119.5,357.4L119.6,356.8L119.7,356.2L119.9,355.6L120.0,355.0L120.1,354.4L120.3,353.8L120.4,353.2L120.5,352.5L120.7,351.9L120.8,351.3L120.9,350.6L121.0,350.0L121.1,349.4L121.2,348.8L121.3,348.2L121.4,347.6L121.4,347.0L121.5,346.4L121.6,345.8L121.7,345.2L121.7,344.6L121.8,344.0L121.9,343.4L121.9,342.8L122.0,342.2L122.1,341.5L122.1,340.9L122.2,340.3L122.3,339.6L122.4,339.0L122.4,338.4L122.5,337.7L122.6,337.1L122.7,336.5L122.8,335.9L122.8,335.3L122.9,334.7L123.0,334.0L123.1,333.4L123.2,332.8L123.2,332.1L123.3,331.5L123.4,330.8L123.5,330.2L123.6,329.5L123.7,328.9L123.8,328.3L123.8,327.6L123.9,327.0L124.0,326.4L124.1,325.8L124.2,325.2L124.3,324.7L124.3,324.1L124.4,323.6L124.5,323.1L124.6,322.3L124.7,321.6L124.9,320.9L125.0,320.2L125.1,319.5L125.2,318.9L125.3,318.3L125.4,317.7L125.5,317.1L125.7,316.6L125.8,316.0L125.9,315.5L126.0,315.1L126.1,314.6L126.2,314.2L126.5,313.1L126.7,312.3L126.9,311.7L127.3,311.3L127.7,311.0L128.2,310.9L128.8,310.8L129.4,310.9L130.1,311.1L130.8,311.3L131.5,311.4L132.1,311.5L132.8,311.7L133.4,311.8L134.1,312.0L134.7,312.2L135.4,312.3L136.0,312.3L136.7,312.3L137.4,312.2L138.0,312.0L138.6,311.8L139.2,311.6L139.8,311.4L140.4,311.2L140.9,311.0L141.4,310.7L141.9,310.3L142.4,309.7L142.7,309.3L142.9,308.8L143.2,308.2L143.4,307.6L143.7,306.9L143.9,306.3L144.2,305.7L144.4,305.0L144.7,304.5L144.9,304.0L145.3,303.3L145.6,302.7L145.9,302.1L146.2,301.6L146.5,301.2L146.8,300.8L147.4,300.2L148.1,300.0L148.7,299.9L149.3,300.1L149.9,300.5L150.6,301.2L150.9,301.6L151.3,302.0L151.6,302.5L152.0,303.0L152.4,303.6L152.8,304.1L153.2,304.6L153.6,305.1L154.1,305.5L154.5,306.0L155.0,306.5L155.4,306.9L155.9,307.4L156.4,307.8L156.9,308.2L157.4,308.6L158.0,309.0L158.5,309.4L159.1,309.7L159.7,310.1L160.2,310.4L160.8,310.7L161.4,310.9L162.0,311.1L162.5,311.3L163.1,311.6L163.6,311.9L164.0,312.3L164.3,312.7L164.6,313.2L164.7,313.6L164.9,314.2L165.0,314.9L165.1,315.7L165.3,316.7L165.4,317.1L165.4,317.7L165.5,318.2L165.6,318.8L165.6,319.4L165.7,320.1L165.7,320.8L165.8,321.5L165.9,322.2L165.9,322.9L166.0,323.6L166.1,324.3L166.1,325.0L166.2,325.6L166.2,326.2L166.3,326.8L166.4,327.3L166.4,327.8L166.5,328.2L166.7,329.3L166.9,330.0L167.0,330.4L167.3,330.7L167.8,331.0L168.3,331.2L168.8,331.5L169.5,331.6L170.2,331.8L170.9,331.9L171.6,331.9L172.3,332.0L172.9,332.0L173.5,332.0L174.2,332.0L174.9,331.9L175.5,331.8L176.2,331.8L176.8,331.7L177.4,331.7L178.1,331.7L178.8,331.8L179.5,331.9L180.1,332.0L180.7,332.1L181.3,332.1L181.8,332.0L182.5,331.7L182.9,331.3L183.3,330.8L183.7,330.1L183.9,329.6L184.1,329.2L184.3,328.6L184.5,328.1L184.6,327.4L184.8,326.6L185.0,325.6L185.1,325.1L185.2,324.6L185.2,324.0L185.3,323.4L185.4,322.8L185.5,322.1L185.6,321.5L185.7,320.8L185.7,320.1L185.8,319.4L185.9,318.7L186.0,318.0L186.1,317.4L186.2,316.7L186.3,316.1L186.4,315.5L186.5,314.8L186.6,314.2L186.8,313.5L186.9,312.8L187.0,312.1L187.2,311.5L187.3,310.8L187.5,310.2L187.6,309.6L187.7,309.1L187.9,308.5L188.0,308.0L188.2,307.6L188.3,307.2L188.8,306.2L189.2,305.6L189.7,305.4L190.2,305.3L190.7,305.4L191.1,305.7L191.6,306.3L192.1,307.2L192.3,307.6L192.5,308.1L192.7,308.6L193.0,309.2L193.2,309.8L193.4,310.4L193.7,311.1L193.9,311.7L194.1,312.3L194.4,312.9L194.6,313.5L194.9,314.1L195.1,314.7L195.4,315.3L195.6,316.0L195.9,316.6L196.1,317.1L196.4,317.7L196.6,318.3L196.9,318.8L197.2,319.3L197.6,319.8L197.9,320.4L198.3,320.9L198.7,321.3L199.1,321.8L199.5,322.2L200.0,322.5L200.4,323.1L200.8,323.6L201.3,324.0L201.8,324.8L202.3,324.9L202.7,325.3L203.2,326.3L203.7,326.4L204.2,326.7L204.7,327.2L205.3,327.7L205.8,328.5L206.4,328.3L206.9,328.7L207.5,329.3L208.0,329.5L208.6,330.2L209.3,330.5L209.9,330.3L210.6,330.4L211.2,331.2L211.8,331.5L212.5,330.6L213.2,331.3L213.8,331.3L214.5,331.1L215.0,330.7L215.6,331.7L216.0,332.1L216.4,332.1L216.9,332.7L217.4,332.2L217.9,331.6L218.4,331.5L218.9,331.0L219.5,330.6L220.0,330.6L220.5,330.5L221.0,330.3L221.5,330.0L222.1,329.6L222.6,329.3L223.0,328.2L223.4,327.9L223.8,327.2L224.2,327.2L224.6,327.2L225.0,325.7L225.4,325.8L225.8,325.9L226.1,324.5L226.5,323.6L226.8,323.4L227.1,322.4L227.5,322.2L227.8,322.3L228.1,322.2L228.3,321.6L228.4,321.1L228.7,319.9L229.0,319.7L229.4,318.7L229.7,319.6L230.0,317.8L230.3,316.9L230.6,316.2L230.9,316.6L231.1,316.0L231.3,315.6L231.7,315.0L232.2,314.8L232.6,315.4L233.1,314.1L233.5,313.9L233.8,313.3L234.1,312.8L234.4,311.8L234.7,311.5L234.9,310.9L235.2,309.9L235.4,309.4L235.5,308.8L235.7,308.5L236.0,308.7L236.3,308.0L236.7,306.9L236.9,307.1L237.2,306.8L237.5,305.4L237.9,305.8L238.4,304.8L238.9,303.7L239.4,303.5L240.0,303.7L240.5,303.5L241.0,303.6L241.5,303.8L242.0,304.4L242.3,305.1L242.5,305.6L243.0,305.0L243.7,305.4L244.4,304.4L244.9,304.3L245.2,305.4L245.5,305.6L245.7,306.3L245.9,307.2" stroke="#0a0a0a" stroke-width="1.4" fill="none" stroke-linejoin="round" stroke-linecap="butt"/>
</g>
<path d="M145.2,250.5H165.5" stroke="#0a0a0a" stroke-width="1.5"/>
<text x="167.9" y="253.2" class="lb" style="font-size:9.7px">Polished Si wafer</text>
</svg>
</body>
</html>
